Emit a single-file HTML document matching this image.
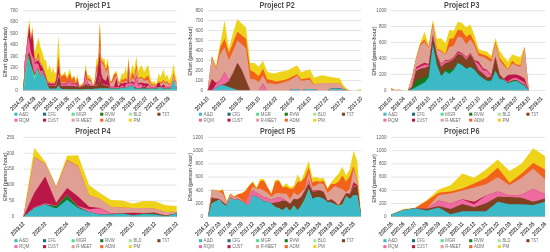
<!DOCTYPE html><html><head><meta charset="utf-8"><style>html,body{margin:0;padding:0;background:#fff;}svg{display:block}text{font-family:"Liberation Sans",sans-serif;}</style></head><body>
<svg width="550" height="252" viewBox="0 0 550 252">
<rect width="550" height="252" fill="#fff"/>
<line x1="23.00" x2="176.40" y1="78.94" y2="78.94" stroke="#d9d9d9" stroke-width="0.7"/>
<line x1="23.00" x2="176.40" y1="67.59" y2="67.59" stroke="#d9d9d9" stroke-width="0.7"/>
<line x1="23.00" x2="176.40" y1="56.23" y2="56.23" stroke="#d9d9d9" stroke-width="0.7"/>
<line x1="23.00" x2="176.40" y1="44.87" y2="44.87" stroke="#d9d9d9" stroke-width="0.7"/>
<line x1="23.00" x2="176.40" y1="33.51" y2="33.51" stroke="#d9d9d9" stroke-width="0.7"/>
<line x1="23.00" x2="176.40" y1="22.16" y2="22.16" stroke="#d9d9d9" stroke-width="0.7"/>
<line x1="23.00" x2="176.40" y1="10.80" y2="10.80" stroke="#d9d9d9" stroke-width="0.7"/>
<path d="M23.00,90.30 L23.00,90.30 L24.00,77.81 L24.80,59.64 L26.20,50.55 L28.10,28.40 L29.30,19.20 L30.80,36.47 L32.40,26.36 L33.80,42.60 L34.70,52.82 L36.60,44.87 L37.90,39.53 L38.60,37.49 L40.20,46.01 L42.80,53.96 L44.50,60.20 L46.00,59.64 L47.70,70.54 L49.30,65.88 L49.90,65.09 L51.50,72.70 L53.10,67.36 L54.70,73.72 L56.30,71.56 L58.40,34.88 L59.60,55.38 L60.00,62.21 L60.70,74.17 L62.30,75.31 L65.00,71.22 L67.10,76.90 L69.80,68.83 L71.90,77.92 L74.10,75.88 L75.70,81.67 L77.30,74.74 L79.40,85.30 L81.60,84.39 L83.70,81.67 L84.00,78.87 L85.60,63.95 L86.00,66.22 L87.50,74.74 L88.00,74.88 L89.60,75.31 L91.20,77.92 L93.00,84.05 L93.40,85.42 L95.00,76.90 L96.60,57.36 L97.00,60.77 L98.30,56.11 L99.00,40.71 L99.90,20.91 L100.00,23.71 L101.00,51.76 L101.20,57.36 L103.10,58.84 L104.00,58.84 L104.70,58.84 L105.80,66.11 L107.90,57.70 L108.00,58.72 L110.00,79.06 L110.10,80.08 L110.50,80.22 L111.00,80.40 L111.70,80.65 L112.00,79.64 L113.80,73.60 L114.00,73.37 L115.00,72.19 L116.50,70.42 L117.00,73.12 L118.00,78.52 L118.10,79.06 L119.00,80.53 L119.70,81.67 L120.00,80.43 L120.50,78.36 L120.80,77.13 L121.90,72.58 L122.00,72.72 L123.50,74.74 L125.00,69.39 L125.60,67.25 L127.20,74.74 L127.60,68.34 L128.30,57.14 L128.80,61.33 L129.00,63.00 L130.40,74.74 L131.00,71.55 L132.00,66.22 L133.00,65.19 L133.10,65.09 L134.20,70.08 L134.50,68.15 L136.40,55.89 L137.00,61.22 L138.10,70.99 L139.50,68.34 L140.00,67.40 L141.40,64.75 L143.00,68.77 L144.20,71.79 L145.00,70.34 L145.50,69.44 L147.50,65.83 L148.10,64.75 L150.00,75.61 L150.90,80.76 L152.00,81.55 L153.10,82.35 L154.80,81.21 L156.00,83.77 L156.40,84.62 L157.50,79.03 L158.00,76.48 L158.70,72.92 L159.50,75.14 L160.00,76.52 L160.30,77.35 L161.00,75.62 L162.00,73.15 L163.70,68.95 L164.00,70.52 L165.30,77.35 L166.00,75.95 L167.00,73.95 L168.00,77.04 L169.20,80.76 L170.00,78.74 L171.00,76.21 L171.40,75.19 L172.00,72.17 L173.70,63.61 L175.00,73.02 L175.30,75.19 L176.40,77.35 L176.40,90.30 Z" fill="#efd31a"/>
<path d="M23.00,90.30 L23.00,90.30 L24.00,78.26 L24.80,60.20 L26.20,51.12 L28.10,32.38 L29.30,23.29 L30.80,38.06 L32.40,29.54 L33.80,46.01 L34.70,59.64 L36.60,58.50 L37.90,53.96 L38.60,52.82 L40.20,61.91 L42.80,66.45 L44.50,70.99 L46.00,76.10 L47.70,81.21 L49.30,81.78 L49.90,81.78 L51.50,82.92 L53.10,82.12 L54.70,82.92 L56.30,77.81 L58.40,56.23 L59.60,67.19 L60.00,70.84 L60.70,77.24 L62.30,75.76 L65.00,74.40 L67.10,78.94 L69.80,73.26 L71.90,80.08 L74.10,76.10 L75.70,82.92 L77.30,77.81 L79.40,85.98 L81.60,85.19 L83.70,82.92 L84.00,80.86 L85.60,69.40 L86.00,71.53 L87.50,77.81 L88.00,78.08 L89.60,78.94 L91.20,80.08 L93.00,84.91 L93.40,85.50 L95.00,80.08 L96.60,64.18 L97.00,67.59 L98.30,61.91 L99.00,45.01 L99.90,23.29 L100.00,26.09 L101.00,54.04 L101.20,59.64 L103.10,61.91 L104.00,63.82 L104.70,65.31 L105.80,69.86 L107.90,64.18 L108.00,64.95 L110.00,80.44 L110.10,81.21 L110.50,81.36 L111.00,81.53 L111.70,81.78 L112.00,80.73 L113.80,74.40 L114.00,74.32 L115.00,73.90 L116.50,73.26 L117.00,75.57 L118.00,80.19 L118.10,80.65 L119.00,81.92 L119.70,82.92 L120.00,82.38 L120.50,81.47 L120.80,80.93 L121.90,78.94 L122.00,79.01 L123.50,80.08 L125.00,78.46 L125.60,77.81 L127.20,80.08 L127.60,72.85 L128.30,60.20 L128.80,64.94 L129.00,66.83 L130.40,80.08 L131.00,77.52 L132.00,73.26 L133.00,73.26 L133.10,73.26 L134.20,76.67 L134.50,74.97 L136.40,64.18 L137.00,68.99 L138.10,77.81 L139.50,77.33 L140.00,77.15 L141.40,76.67 L143.00,77.97 L144.20,78.94 L145.00,78.24 L145.50,77.81 L147.50,76.06 L148.10,75.54 L150.00,80.93 L150.90,83.49 L152.00,84.05 L153.10,84.62 L154.80,84.05 L156.00,85.19 L156.40,85.19 L157.50,82.92 L158.00,82.77 L158.70,81.21 L159.50,81.78 L160.00,82.14 L160.30,82.35 L161.00,81.88 L162.00,81.21 L163.70,80.08 L164.00,80.50 L165.30,82.35 L166.00,81.88 L167.00,81.21 L168.00,82.50 L169.20,84.05 L170.00,83.43 L171.00,82.66 L171.40,82.35 L172.00,79.98 L173.70,73.26 L175.00,78.80 L175.30,80.08 L176.40,81.21 L176.40,90.30 Z" fill="#f2621a"/>
<path d="M23.00,90.30 L23.00,90.30 L24.00,78.49 L24.80,60.77 L26.20,51.69 L28.10,34.65 L29.30,25.56 L30.80,39.19 L32.40,31.81 L33.80,48.28 L34.70,61.34 L36.60,60.20 L37.90,57.36 L38.60,56.23 L40.20,63.04 L42.80,67.59 L44.50,72.13 L46.00,77.24 L47.70,82.35 L49.30,82.58 L49.90,82.58 L51.50,83.49 L53.10,82.80 L54.70,83.49 L56.30,79.51 L58.40,63.04 L59.60,72.52 L60.00,75.68 L60.70,81.21 L62.30,82.58 L65.00,82.12 L67.10,83.26 L69.80,79.51 L71.90,82.92 L74.10,81.78 L75.70,84.62 L77.30,80.99 L79.40,86.44 L81.60,86.24 L83.70,84.62 L84.00,82.47 L85.60,69.40 L86.00,72.37 L87.50,80.08 L88.00,80.21 L89.60,80.65 L91.20,81.78 L93.00,85.53 L93.40,85.50 L95.00,82.35 L96.60,69.86 L97.00,73.26 L98.30,64.84 L99.00,57.65 L99.90,44.87 L100.00,46.18 L101.00,59.29 L101.20,61.91 L103.10,64.18 L104.00,65.78 L104.70,67.02 L105.80,72.13 L107.90,68.72 L108.00,69.34 L110.00,81.73 L110.10,82.35 L110.50,82.49 L111.00,82.67 L111.70,82.92 L112.00,82.51 L113.80,80.08 L114.00,79.74 L115.00,78.06 L116.50,75.54 L117.00,77.67 L118.00,81.92 L118.10,82.35 L119.00,83.31 L119.70,84.05 L120.00,83.67 L120.50,83.02 L120.80,82.63 L121.90,81.21 L122.00,81.29 L123.50,82.35 L125.00,81.13 L125.60,80.65 L127.20,82.35 L127.60,74.71 L128.30,61.34 L128.80,66.34 L129.00,68.34 L130.40,82.35 L131.00,80.65 L132.00,77.81 L133.00,78.84 L133.10,78.94 L134.20,80.08 L134.50,78.53 L136.40,68.72 L137.00,72.33 L138.10,78.94 L139.50,78.46 L140.00,78.29 L141.40,77.81 L143.00,79.43 L144.20,80.65 L145.00,80.53 L145.50,80.46 L147.50,80.17 L148.10,80.08 L150.00,83.55 L150.90,85.19 L152.00,85.19 L153.10,85.19 L154.80,85.19 L156.00,85.19 L156.40,85.19 L157.50,82.92 L158.00,82.92 L158.70,82.35 L159.50,82.92 L160.00,83.73 L160.30,84.05 L161.00,83.47 L162.00,82.63 L163.70,81.21 L164.00,81.64 L165.30,83.49 L166.00,83.25 L167.00,82.92 L168.00,83.95 L169.20,85.19 L170.00,84.57 L171.00,83.80 L171.40,83.49 L172.00,81.41 L173.70,75.54 L175.00,80.61 L175.30,81.78 L176.40,82.35 L176.40,90.30 Z" fill="#df9f92"/>
<path d="M23.00,90.30 L23.00,90.30 L24.00,78.72 L24.80,61.34 L26.20,52.25 L28.10,35.79 L29.30,26.70 L30.80,40.33 L32.40,33.51 L33.80,50.55 L34.70,63.04 L36.60,61.34 L37.90,60.54 L38.60,60.43 L40.20,64.18 L42.80,68.15 L44.50,73.26 L46.00,77.81 L47.70,83.26 L49.30,83.26 L49.90,83.26 L51.50,84.05 L53.10,83.49 L54.70,84.05 L56.30,80.08 L58.40,64.18 L59.60,73.96 L60.00,77.21 L60.70,82.92 L62.30,83.71 L65.00,83.26 L67.10,84.05 L69.80,80.08 L71.90,83.71 L74.10,82.58 L75.70,85.19 L77.30,81.78 L79.40,86.67 L81.60,86.24 L83.70,85.62 L84.00,84.13 L85.60,69.40 L86.00,72.37 L87.50,82.97 L88.00,83.76 L89.60,84.62 L91.20,85.53 L93.00,85.53 L93.40,85.50 L95.00,84.62 L96.60,77.35 L97.00,75.54 L98.30,64.84 L99.00,59.09 L99.90,51.69 L100.00,53.35 L101.00,69.94 L101.20,73.26 L103.10,78.94 L104.00,79.58 L104.70,80.08 L105.80,81.21 L107.90,74.74 L108.00,75.25 L110.00,85.51 L110.10,86.02 L110.50,86.31 L111.00,86.67 L111.70,86.67 L112.00,86.67 L113.80,86.67 L114.00,86.67 L115.00,83.17 L116.50,77.92 L117.00,80.84 L118.00,86.67 L118.10,86.67 L119.00,85.53 L119.70,84.65 L120.00,84.27 L120.50,83.64 L120.80,83.26 L121.90,83.57 L122.00,83.60 L123.50,83.13 L125.00,82.65 L125.60,82.46 L127.20,83.09 L127.60,83.02 L128.30,61.91 L128.80,82.80 L129.00,82.77 L130.40,82.52 L131.00,82.07 L132.00,81.33 L133.00,82.10 L133.10,82.18 L134.20,83.03 L134.50,82.01 L136.40,75.54 L137.00,78.26 L138.10,83.26 L139.50,82.92 L140.00,82.80 L141.40,82.46 L143.00,83.11 L144.20,83.60 L145.00,83.60 L145.50,83.60 L147.50,83.60 L148.10,83.60 L150.00,86.67 L150.90,86.67 L152.00,86.67 L153.10,86.67 L154.80,86.67 L156.00,86.67 L156.40,85.67 L157.50,82.92 L158.00,82.92 L158.70,82.92 L159.50,82.92 L160.00,84.17 L160.30,84.92 L161.00,86.67 L162.00,85.70 L163.70,84.05 L164.00,84.54 L165.30,86.67 L166.00,86.67 L167.00,86.67 L168.00,86.67 L169.20,86.67 L170.00,86.67 L171.00,86.67 L171.40,86.67 L172.00,85.51 L173.70,80.08 L175.00,85.76 L175.30,86.00 L176.40,86.44 L176.40,90.30 Z" fill="#bb1746"/>
<path d="M23.00,90.30 L23.00,90.30 L24.00,78.94 L24.80,61.91 L26.20,52.82 L28.10,36.92 L29.30,40.33 L30.80,51.69 L32.40,56.23 L33.80,58.50 L34.70,64.18 L36.60,63.04 L37.90,64.18 L38.60,64.75 L40.20,70.99 L42.80,70.42 L44.50,75.54 L46.00,78.94 L47.70,84.96 L49.30,85.19 L49.90,85.19 L51.50,85.53 L53.10,85.19 L54.70,85.53 L56.30,83.49 L58.40,73.26 L59.60,76.67 L60.00,79.36 L60.70,84.05 L62.30,84.62 L65.00,84.05 L67.10,84.85 L69.80,80.65 L71.90,84.62 L74.10,83.49 L75.70,85.76 L77.30,84.05 L79.40,86.89 L81.60,86.24 L83.70,85.62 L84.00,85.53 L85.60,73.26 L86.00,75.31 L87.50,82.97 L88.00,85.53 L89.60,85.53 L91.20,85.53 L93.00,85.53 L93.40,85.50 L95.00,85.36 L96.60,85.22 L97.00,85.19 L98.30,80.86 L99.00,78.53 L99.90,75.54 L100.00,76.05 L101.00,81.21 L101.20,83.49 L103.10,84.05 L104.00,84.05 L104.70,84.62 L105.80,84.81 L107.90,85.17 L108.00,85.19 L110.00,86.63 L110.10,86.70 L110.50,86.99 L111.00,87.35 L111.70,87.35 L112.00,87.35 L113.80,87.35 L114.00,87.35 L115.00,87.35 L116.50,87.35 L117.00,87.35 L118.00,87.35 L118.10,87.35 L119.00,87.35 L119.70,87.35 L120.00,87.35 L120.50,86.81 L120.80,86.48 L121.90,85.30 L122.00,85.19 L123.50,86.27 L125.00,87.35 L125.60,84.05 L127.20,83.77 L127.60,83.70 L128.30,83.57 L128.80,83.49 L129.00,83.45 L130.40,83.20 L131.00,83.10 L132.00,82.92 L133.00,83.69 L133.10,83.77 L134.20,84.62 L134.50,83.54 L136.40,76.67 L137.00,79.56 L138.10,84.85 L139.50,84.51 L140.00,84.39 L141.40,84.05 L143.00,87.01 L144.20,85.19 L145.00,86.52 L145.50,87.26 L147.50,85.69 L148.10,85.19 L150.00,87.35 L150.90,87.35 L152.00,87.35 L153.10,87.35 L154.80,87.35 L156.00,87.35 L156.40,87.35 L157.50,87.35 L158.00,87.35 L158.70,87.35 L159.50,87.35 L160.00,86.89 L160.30,87.17 L161.00,87.35 L162.00,87.35 L163.70,87.35 L164.00,87.35 L165.30,87.35 L166.00,87.35 L167.00,87.35 L168.00,87.35 L169.20,87.35 L170.00,87.35 L171.00,87.35 L171.40,87.35 L172.00,85.51 L173.70,80.08 L175.00,85.76 L175.30,86.00 L176.40,86.44 L176.40,90.30 Z" fill="#f06aa2"/>
<path d="M23.00,90.30 L23.00,90.30 L24.00,82.92 L24.80,74.97 L26.20,65.88 L28.10,53.96 L29.30,52.82 L30.80,57.36 L32.40,65.31 L33.80,70.99 L34.70,73.83 L36.60,70.42 L37.90,68.72 L38.60,69.86 L40.20,76.67 L42.80,72.13 L44.50,76.67 L46.00,79.51 L47.70,85.53 L49.30,85.98 L49.90,85.98 L51.50,85.98 L53.10,85.98 L54.70,85.98 L56.30,85.76 L58.40,77.81 L59.60,77.81 L60.00,80.70 L60.70,85.76 L62.30,85.98 L65.00,85.76 L67.10,86.33 L69.80,85.76 L71.90,86.33 L74.10,85.76 L75.70,86.89 L77.30,85.76 L79.40,87.46 L81.60,86.75 L83.70,86.08 L84.00,85.98 L85.60,84.44 L86.00,84.05 L87.50,85.50 L88.00,85.98 L89.60,85.98 L91.20,85.98 L93.00,85.98 L93.40,85.98 L95.00,85.98 L96.60,85.98 L97.00,85.98 L98.30,81.81 L99.00,79.56 L99.90,76.67 L100.00,77.34 L101.00,84.05 L101.20,84.05 L103.10,84.85 L104.00,84.85 L104.70,85.19 L105.80,85.45 L107.90,85.96 L108.00,85.98 L110.00,87.80 L110.10,87.89 L110.50,88.26 L111.00,88.26 L111.70,88.26 L112.00,88.26 L113.80,88.26 L114.00,88.26 L115.00,88.26 L116.50,88.26 L117.00,88.26 L118.00,87.98 L118.10,87.95 L119.00,87.70 L119.70,87.51 L120.00,87.42 L120.50,87.43 L120.80,87.43 L121.90,87.43 L122.00,87.43 L123.50,87.44 L125.00,87.45 L125.60,87.29 L127.20,86.86 L127.60,86.75 L128.30,86.56 L128.80,86.43 L129.00,86.38 L130.40,86.00 L131.00,85.84 L132.00,85.57 L133.00,85.76 L133.10,85.95 L134.20,86.75 L134.50,86.91 L136.40,87.93 L137.00,88.26 L138.10,88.26 L139.50,88.26 L140.00,88.26 L141.40,87.67 L143.00,87.01 L144.20,87.01 L145.00,87.01 L145.50,87.26 L147.50,88.26 L148.10,88.26 L150.00,88.26 L150.90,88.26 L152.00,88.26 L153.10,88.26 L154.80,88.26 L156.00,88.26 L156.40,88.26 L157.50,88.26 L158.00,88.26 L158.70,88.07 L159.50,87.35 L160.00,86.89 L160.30,87.17 L161.00,87.80 L162.00,88.26 L163.70,88.26 L164.00,88.26 L165.30,88.26 L166.00,88.26 L167.00,88.26 L168.00,88.26 L169.20,88.26 L170.00,88.26 L171.00,87.97 L171.40,87.43 L172.00,85.51 L173.70,80.08 L175.00,85.76 L175.30,86.00 L176.40,86.44 L176.40,90.30 Z" fill="#7e401e"/>
<path d="M23.00,90.30 L23.00,90.30 L24.00,83.49 L24.80,75.54 L26.20,66.45 L28.10,55.09 L29.30,59.64 L30.80,65.31 L32.40,69.86 L33.80,73.26 L34.70,75.54 L36.60,70.99 L37.90,69.29 L38.60,70.99 L40.20,77.24 L42.80,72.70 L44.50,77.24 L46.00,80.08 L47.70,85.76 L49.30,88.71 L49.90,88.71 L51.50,88.71 L53.10,88.71 L54.70,88.71 L56.30,88.71 L58.40,85.19 L59.60,87.32 L60.00,88.03 L60.70,88.60 L62.30,89.16 L65.00,89.16 L67.10,89.39 L69.80,89.39 L71.90,89.39 L74.10,89.39 L75.70,89.39 L77.30,89.39 L79.40,89.73 L81.60,89.60 L83.70,89.48 L84.00,89.46 L85.60,89.37 L86.00,89.35 L87.50,89.26 L88.00,89.23 L89.60,89.14 L91.20,89.05 L93.00,88.94 L93.40,88.92 L95.00,88.83 L96.60,88.73 L97.00,88.71 L98.30,88.64 L99.00,88.60 L99.90,88.60 L100.00,88.60 L101.00,88.60 L101.20,88.60 L103.10,88.60 L104.00,88.60 L104.70,88.60 L105.80,88.60 L107.90,88.60 L108.00,88.60 L110.00,88.71 L110.10,88.71 L110.50,88.71 L111.00,88.71 L111.70,88.71 L112.00,88.71 L113.80,88.71 L114.00,88.71 L115.00,88.71 L116.50,88.71 L117.00,88.71 L118.00,88.71 L118.10,88.71 L119.00,88.71 L119.70,88.13 L120.00,87.88 L120.50,87.46 L120.80,87.71 L121.90,88.63 L122.00,88.71 L123.50,88.31 L125.00,87.90 L125.60,87.74 L127.20,87.31 L127.60,87.21 L128.30,87.02 L128.80,86.88 L129.00,86.83 L130.40,86.46 L131.00,86.29 L132.00,86.03 L133.00,85.76 L133.10,85.95 L134.20,88.12 L134.50,88.71 L136.40,88.71 L137.00,88.71 L138.10,88.71 L139.50,88.71 L140.00,88.71 L141.40,88.71 L143.00,88.71 L144.20,88.71 L145.00,88.71 L145.50,88.71 L147.50,88.71 L148.10,88.71 L150.00,88.71 L150.90,88.71 L152.00,88.71 L153.10,88.71 L154.80,88.71 L156.00,88.71 L156.40,88.71 L157.50,88.71 L158.00,88.71 L158.70,88.07 L159.50,87.35 L160.00,86.89 L160.30,87.17 L161.00,87.80 L162.00,88.71 L163.70,88.71 L164.00,88.71 L165.30,88.71 L166.00,88.71 L167.00,88.71 L168.00,88.71 L169.20,88.71 L170.00,88.71 L171.00,88.71 L171.40,87.43 L172.00,85.51 L173.70,80.08 L175.00,85.76 L175.30,86.00 L176.40,86.89 L176.40,90.30 Z" fill="#4fe08e"/>
<path d="M23.00,90.30 L23.00,90.30 L24.00,88.03 L24.80,83.49 L26.20,73.26 L28.10,56.23 L29.30,60.77 L30.80,66.45 L32.40,70.99 L33.80,76.67 L34.70,80.08 L36.60,73.26 L37.90,70.20 L38.60,72.13 L40.20,78.26 L42.80,73.38 L44.50,77.81 L46.00,81.55 L47.70,86.89 L49.30,88.71 L49.90,88.71 L51.50,88.71 L53.10,88.71 L54.70,88.71 L56.30,88.71 L58.40,85.76 L59.60,87.46 L60.00,88.03 L60.70,88.60 L62.30,89.16 L65.00,89.16 L67.10,89.39 L69.80,89.39 L71.90,89.39 L74.10,89.39 L75.70,89.39 L77.30,89.39 L79.40,89.73 L81.60,89.60 L83.70,89.48 L84.00,89.46 L85.60,89.37 L86.00,89.35 L87.50,89.26 L88.00,89.23 L89.60,89.14 L91.20,89.05 L93.00,88.94 L93.40,88.92 L95.00,88.83 L96.60,88.73 L97.00,88.71 L98.30,88.64 L99.00,88.60 L99.90,88.60 L100.00,88.60 L101.00,88.60 L101.20,88.60 L103.10,88.60 L104.00,88.60 L104.70,88.60 L105.80,88.60 L107.90,88.60 L108.00,88.60 L110.00,88.71 L110.10,88.71 L110.50,88.71 L111.00,88.71 L111.70,88.71 L112.00,88.71 L113.80,88.71 L114.00,88.71 L115.00,88.71 L116.50,88.71 L117.00,88.71 L118.00,88.71 L118.10,88.71 L119.00,88.71 L119.70,88.13 L120.00,87.88 L120.50,87.46 L120.80,87.71 L121.90,88.63 L122.00,88.71 L123.50,88.31 L125.00,87.90 L125.60,87.74 L127.20,87.31 L127.60,87.21 L128.30,87.02 L128.80,86.88 L129.00,86.83 L130.40,86.46 L131.00,86.29 L132.00,86.03 L133.00,85.76 L133.10,85.95 L134.20,88.12 L134.50,88.71 L136.40,88.71 L137.00,88.71 L138.10,88.71 L139.50,88.71 L140.00,88.71 L141.40,88.71 L143.00,88.71 L144.20,88.71 L145.00,88.71 L145.50,88.71 L147.50,88.71 L148.10,88.71 L150.00,88.71 L150.90,88.71 L152.00,88.71 L153.10,88.71 L154.80,88.71 L156.00,88.71 L156.40,88.71 L157.50,88.71 L158.00,88.71 L158.70,88.07 L159.50,87.35 L160.00,86.89 L160.30,87.17 L161.00,87.80 L162.00,88.71 L163.70,88.71 L164.00,88.71 L165.30,88.71 L166.00,88.71 L167.00,88.71 L168.00,88.71 L169.20,88.71 L170.00,88.71 L171.00,88.71 L171.40,87.43 L172.00,85.51 L173.70,80.08 L175.00,85.76 L175.30,86.00 L176.40,86.89 L176.40,90.30 Z" fill="#3cb9c6"/>
<line x1="23.00" x2="176.40" y1="90.30" y2="90.30" stroke="#d9d9d9" stroke-width="0.7"/>
<text x="17.90" y="91.60" font-size="5.40" fill="#5a5a5a" text-anchor="end" textLength="2.53" lengthAdjust="spacingAndGlyphs">0</text>
<text x="17.90" y="80.24" font-size="5.40" fill="#5a5a5a" text-anchor="end" textLength="7.60" lengthAdjust="spacingAndGlyphs">100</text>
<text x="17.90" y="68.89" font-size="5.40" fill="#5a5a5a" text-anchor="end" textLength="7.60" lengthAdjust="spacingAndGlyphs">200</text>
<text x="17.90" y="57.53" font-size="5.40" fill="#5a5a5a" text-anchor="end" textLength="7.60" lengthAdjust="spacingAndGlyphs">300</text>
<text x="17.90" y="46.17" font-size="5.40" fill="#5a5a5a" text-anchor="end" textLength="7.60" lengthAdjust="spacingAndGlyphs">400</text>
<text x="17.90" y="34.81" font-size="5.40" fill="#5a5a5a" text-anchor="end" textLength="7.60" lengthAdjust="spacingAndGlyphs">500</text>
<text x="17.90" y="23.46" font-size="5.40" fill="#5a5a5a" text-anchor="end" textLength="7.60" lengthAdjust="spacingAndGlyphs">600</text>
<text x="17.90" y="12.10" font-size="5.40" fill="#5a5a5a" text-anchor="end" textLength="7.60" lengthAdjust="spacingAndGlyphs">700</text>
<text x="6.80" y="52.00" font-size="5.60" fill="#555555" text-anchor="middle" textLength="50.59" lengthAdjust="spacingAndGlyphs" transform="rotate(-90 6.80 52.00)" stroke="#555555" stroke-width="0.1">Effort (person-hour)</text>
<text x="92.80" y="7.60" font-size="8.50" font-weight="bold" fill="#505050" text-anchor="middle" textLength="35.30" lengthAdjust="spacingAndGlyphs">Project P1</text>
<text x="24.60" y="98.90" font-size="5.50" fill="#424242" text-anchor="end" textLength="16.96" lengthAdjust="spacingAndGlyphs" transform="rotate(-45 24.60 98.90)" stroke="#424242" stroke-width="0.2">2014.02</text>
<text x="35.79" y="98.90" font-size="5.50" fill="#424242" text-anchor="end" textLength="16.96" lengthAdjust="spacingAndGlyphs" transform="rotate(-45 35.79 98.90)" stroke="#424242" stroke-width="0.2">2014.09</text>
<text x="46.97" y="98.90" font-size="5.50" fill="#424242" text-anchor="end" textLength="16.96" lengthAdjust="spacingAndGlyphs" transform="rotate(-45 46.97 98.90)" stroke="#424242" stroke-width="0.2">2015.04</text>
<text x="58.16" y="98.90" font-size="5.50" fill="#424242" text-anchor="end" textLength="16.96" lengthAdjust="spacingAndGlyphs" transform="rotate(-45 58.16 98.90)" stroke="#424242" stroke-width="0.2">2015.11</text>
<text x="69.34" y="98.90" font-size="5.50" fill="#424242" text-anchor="end" textLength="16.96" lengthAdjust="spacingAndGlyphs" transform="rotate(-45 69.34 98.90)" stroke="#424242" stroke-width="0.2">2016.06</text>
<text x="80.53" y="98.90" font-size="5.50" fill="#424242" text-anchor="end" textLength="16.96" lengthAdjust="spacingAndGlyphs" transform="rotate(-45 80.53 98.90)" stroke="#424242" stroke-width="0.2">2017.01</text>
<text x="91.71" y="98.90" font-size="5.50" fill="#424242" text-anchor="end" textLength="16.96" lengthAdjust="spacingAndGlyphs" transform="rotate(-45 91.71 98.90)" stroke="#424242" stroke-width="0.2">2017.08</text>
<text x="102.90" y="98.90" font-size="5.50" fill="#424242" text-anchor="end" textLength="16.96" lengthAdjust="spacingAndGlyphs" transform="rotate(-45 102.90 98.90)" stroke="#424242" stroke-width="0.2">2018.03</text>
<text x="114.08" y="98.90" font-size="5.50" fill="#424242" text-anchor="end" textLength="16.96" lengthAdjust="spacingAndGlyphs" transform="rotate(-45 114.08 98.90)" stroke="#424242" stroke-width="0.2">2018.10</text>
<text x="125.27" y="98.90" font-size="5.50" fill="#424242" text-anchor="end" textLength="16.96" lengthAdjust="spacingAndGlyphs" transform="rotate(-45 125.27 98.90)" stroke="#424242" stroke-width="0.2">2019.05</text>
<text x="136.45" y="98.90" font-size="5.50" fill="#424242" text-anchor="end" textLength="16.96" lengthAdjust="spacingAndGlyphs" transform="rotate(-45 136.45 98.90)" stroke="#424242" stroke-width="0.2">2019.12</text>
<text x="147.64" y="98.90" font-size="5.50" fill="#424242" text-anchor="end" textLength="16.96" lengthAdjust="spacingAndGlyphs" transform="rotate(-45 147.64 98.90)" stroke="#424242" stroke-width="0.2">2020.07</text>
<text x="158.82" y="98.90" font-size="5.50" fill="#424242" text-anchor="end" textLength="16.96" lengthAdjust="spacingAndGlyphs" transform="rotate(-45 158.82 98.90)" stroke="#424242" stroke-width="0.2">2021.02</text>
<text x="170.01" y="98.90" font-size="5.50" fill="#424242" text-anchor="end" textLength="16.96" lengthAdjust="spacingAndGlyphs" transform="rotate(-45 170.01 98.90)" stroke="#424242" stroke-width="0.2">2021.09</text>
<rect x="14.40" y="112.70" width="3.1" height="3.0" fill="#3cb9c6"/>
<text x="19.10" y="115.70" font-size="4.90" fill="#6e6e6e" text-anchor="start" textLength="9.38" lengthAdjust="spacingAndGlyphs">A&amp;D</text>
<rect x="43.00" y="112.70" width="3.1" height="3.0" fill="#1d6b74"/>
<text x="47.70" y="115.70" font-size="4.90" fill="#6e6e6e" text-anchor="start" textLength="8.07" lengthAdjust="spacingAndGlyphs">CFG</text>
<rect x="71.60" y="112.70" width="3.1" height="3.0" fill="#4fe08e"/>
<text x="76.30" y="115.70" font-size="4.90" fill="#6e6e6e" text-anchor="start" textLength="10.14" lengthAdjust="spacingAndGlyphs">MGR</text>
<rect x="100.20" y="112.70" width="3.1" height="3.0" fill="#127a1c"/>
<text x="104.90" y="115.70" font-size="4.90" fill="#6e6e6e" text-anchor="start" textLength="9.93" lengthAdjust="spacingAndGlyphs">RVW</text>
<rect x="128.80" y="112.70" width="3.1" height="3.0" fill="#a8e29c"/>
<text x="133.50" y="115.70" font-size="4.90" fill="#6e6e6e" text-anchor="start" textLength="7.90" lengthAdjust="spacingAndGlyphs">BLD</text>
<rect x="157.40" y="112.70" width="3.1" height="3.0" fill="#7e401e"/>
<text x="162.10" y="115.70" font-size="4.90" fill="#6e6e6e" text-anchor="start" textLength="7.11" lengthAdjust="spacingAndGlyphs">TST</text>
<rect x="14.40" y="118.65" width="3.1" height="3.0" fill="#f06aa2"/>
<text x="19.10" y="121.65" font-size="4.90" fill="#6e6e6e" text-anchor="start" textLength="10.31" lengthAdjust="spacingAndGlyphs">RQM</text>
<rect x="43.00" y="118.65" width="3.1" height="3.0" fill="#bb1746"/>
<text x="47.70" y="121.65" font-size="4.90" fill="#6e6e6e" text-anchor="start" textLength="10.57" lengthAdjust="spacingAndGlyphs">CUST</text>
<rect x="71.60" y="118.65" width="3.1" height="3.0" fill="#df9f92"/>
<text x="76.30" y="121.65" font-size="4.90" fill="#6e6e6e" text-anchor="start" textLength="15.84" lengthAdjust="spacingAndGlyphs">R-MEET</text>
<rect x="100.20" y="118.65" width="3.1" height="3.0" fill="#f2621a"/>
<text x="104.90" y="121.65" font-size="4.90" fill="#6e6e6e" text-anchor="start" textLength="10.24" lengthAdjust="spacingAndGlyphs">ADM</text>
<rect x="128.80" y="118.65" width="3.1" height="3.0" fill="#efd31a"/>
<text x="133.50" y="121.65" font-size="4.90" fill="#6e6e6e" text-anchor="start" textLength="6.86" lengthAdjust="spacingAndGlyphs">PM</text>
<line x1="207.60" x2="361.00" y1="80.43" y2="80.43" stroke="#d9d9d9" stroke-width="0.7"/>
<line x1="207.60" x2="361.00" y1="70.45" y2="70.45" stroke="#d9d9d9" stroke-width="0.7"/>
<line x1="207.60" x2="361.00" y1="60.48" y2="60.48" stroke="#d9d9d9" stroke-width="0.7"/>
<line x1="207.60" x2="361.00" y1="50.50" y2="50.50" stroke="#d9d9d9" stroke-width="0.7"/>
<line x1="207.60" x2="361.00" y1="40.52" y2="40.52" stroke="#d9d9d9" stroke-width="0.7"/>
<line x1="207.60" x2="361.00" y1="30.55" y2="30.55" stroke="#d9d9d9" stroke-width="0.7"/>
<line x1="207.60" x2="361.00" y1="20.58" y2="20.58" stroke="#d9d9d9" stroke-width="0.7"/>
<line x1="207.60" x2="361.00" y1="10.60" y2="10.60" stroke="#d9d9d9" stroke-width="0.7"/>
<path d="M207.60,90.40 L207.60,90.40 L211.86,55.89 L216.12,65.46 L220.38,43.02 L224.64,20.58 L228.91,49.10 L233.17,32.54 L237.43,18.98 L241.69,23.57 L245.95,27.56 L250.21,63.07 L254.47,63.07 L258.73,66.66 L262.99,60.87 L267.26,71.85 L271.52,73.34 L275.78,73.34 L280.04,71.85 L284.30,71.15 L288.56,69.65 L292.82,67.46 L297.08,65.26 L301.34,72.35 L305.61,70.85 L309.87,69.35 L314.13,77.83 L318.39,76.34 L322.65,75.14 L326.91,76.34 L331.17,77.03 L335.43,77.83 L339.69,78.23 L343.96,85.91 L348.22,89.80 L352.48,90.20 L356.74,89.90 L361.00,89.10 L361.00,90.40 Z" fill="#efd31a"/>
<path d="M207.60,90.40 L207.60,90.40 L211.86,56.29 L216.12,67.96 L220.38,46.51 L224.64,38.73 L228.91,52.99 L233.17,42.52 L237.43,31.65 L241.69,35.24 L245.95,38.73 L250.21,69.95 L254.47,72.54 L258.73,76.34 L262.99,68.85 L267.26,79.23 L271.52,79.93 L275.78,81.42 L280.04,80.72 L284.30,79.93 L288.56,78.53 L292.82,76.34 L297.08,74.14 L301.34,79.23 L305.61,78.53 L309.87,77.83 L314.13,84.42 L318.39,83.62 L322.65,82.92 L326.91,82.92 L331.17,83.22 L335.43,83.62 L339.69,83.62 L343.96,88.41 L348.22,90.10 L352.48,90.40 L356.74,90.40 L361.00,90.40 L361.00,90.40 Z" fill="#f2621a"/>
<path d="M207.60,90.40 L207.60,90.40 L211.86,56.88 L216.12,68.95 L220.38,53.49 L224.64,47.51 L228.91,59.98 L233.17,50.50 L237.43,40.43 L241.69,44.32 L245.95,48.31 L250.21,79.03 L254.47,79.23 L258.73,82.12 L262.99,75.54 L267.26,83.62 L271.52,83.62 L275.78,84.32 L280.04,83.62 L284.30,82.12 L288.56,80.72 L292.82,78.53 L297.08,75.54 L301.34,80.72 L305.61,80.23 L309.87,79.73 L314.13,85.11 L318.39,83.62 L322.65,82.92 L326.91,82.92 L331.17,83.22 L335.43,83.62 L339.69,83.62 L343.96,88.60 L348.22,90.20 L352.48,90.40 L356.74,90.40 L361.00,90.40 L361.00,90.40 Z" fill="#df9f92"/>
<path d="M207.60,90.40 L207.60,90.40 L211.86,79.03 L216.12,83.02 L220.38,80.03 L224.64,71.95 L228.91,80.03 L233.17,72.45 L237.43,62.97 L241.69,69.45 L245.95,79.93 L250.21,90.40 L254.47,90.40 L258.73,90.40 L262.99,83.62 L267.26,90.40 L271.52,90.40 L275.78,90.40 L280.04,90.40 L284.30,90.40 L288.56,90.40 L292.82,88.90 L297.08,88.90 L301.34,90.40 L305.61,89.10 L309.87,89.10 L314.13,89.10 L318.39,90.40 L322.65,90.40 L326.91,90.40 L331.17,88.50 L335.43,88.21 L339.69,88.21 L343.96,89.40 L348.22,90.40 L352.48,90.40 L356.74,90.40 L361.00,90.40 L361.00,90.40 Z" fill="#bb1746"/>
<path d="M207.60,90.40 L207.60,90.40 L211.86,90.40 L216.12,84.02 L220.38,80.03 L224.64,71.95 L228.91,80.03 L233.17,72.45 L237.43,62.97 L241.69,69.45 L245.95,79.93 L250.21,90.40 L254.47,90.40 L258.73,90.40 L262.99,83.62 L267.26,90.40 L271.52,90.40 L275.78,90.40 L280.04,90.40 L284.30,90.40 L288.56,90.40 L292.82,88.90 L297.08,88.90 L301.34,90.40 L305.61,89.10 L309.87,89.10 L314.13,89.10 L318.39,90.40 L322.65,90.40 L326.91,90.40 L331.17,88.50 L335.43,88.21 L339.69,88.21 L343.96,89.40 L348.22,90.40 L352.48,90.40 L356.74,90.40 L361.00,90.40 L361.00,90.40 Z" fill="#f06aa2"/>
<path d="M207.60,90.40 L207.60,90.40 L211.86,90.40 L216.12,87.51 L220.38,85.01 L224.64,84.02 L228.91,81.02 L233.17,72.94 L237.43,62.97 L241.69,69.95 L245.95,80.43 L250.21,90.40 L254.47,90.40 L258.73,90.40 L262.99,90.40 L267.26,90.40 L271.52,90.40 L275.78,90.40 L280.04,90.40 L284.30,90.40 L288.56,90.40 L292.82,88.90 L297.08,88.90 L301.34,90.40 L305.61,89.10 L309.87,89.10 L314.13,89.10 L318.39,90.40 L322.65,90.40 L326.91,90.40 L331.17,88.50 L335.43,88.21 L339.69,88.21 L343.96,89.40 L348.22,90.40 L352.48,90.40 L356.74,90.40 L361.00,90.40 L361.00,90.40 Z" fill="#7e401e"/>
<path d="M207.60,90.40 L207.60,90.40 L211.86,90.40 L216.12,87.51 L220.38,85.01 L224.64,85.51 L228.91,87.01 L233.17,88.50 L237.43,89.90 L241.69,90.40 L245.95,90.40 L250.21,90.40 L254.47,90.40 L258.73,90.40 L262.99,90.40 L267.26,90.40 L271.52,90.40 L275.78,90.40 L280.04,90.40 L284.30,90.40 L288.56,90.40 L292.82,88.90 L297.08,88.90 L301.34,90.40 L305.61,89.10 L309.87,89.10 L314.13,89.10 L318.39,90.40 L322.65,90.40 L326.91,90.40 L331.17,88.50 L335.43,88.50 L339.69,88.50 L343.96,89.40 L348.22,90.40 L352.48,90.40 L356.74,90.40 L361.00,90.40 L361.00,90.40 Z" fill="#3cb9c6"/>
<line x1="207.60" x2="361.00" y1="90.40" y2="90.40" stroke="#d9d9d9" stroke-width="0.7"/>
<text x="203.00" y="91.70" font-size="5.40" fill="#5a5a5a" text-anchor="end" textLength="2.53" lengthAdjust="spacingAndGlyphs">0</text>
<text x="203.00" y="81.73" font-size="5.40" fill="#5a5a5a" text-anchor="end" textLength="7.60" lengthAdjust="spacingAndGlyphs">100</text>
<text x="203.00" y="71.75" font-size="5.40" fill="#5a5a5a" text-anchor="end" textLength="7.60" lengthAdjust="spacingAndGlyphs">200</text>
<text x="203.00" y="61.77" font-size="5.40" fill="#5a5a5a" text-anchor="end" textLength="7.60" lengthAdjust="spacingAndGlyphs">300</text>
<text x="203.00" y="51.80" font-size="5.40" fill="#5a5a5a" text-anchor="end" textLength="7.60" lengthAdjust="spacingAndGlyphs">400</text>
<text x="203.00" y="41.82" font-size="5.40" fill="#5a5a5a" text-anchor="end" textLength="7.60" lengthAdjust="spacingAndGlyphs">500</text>
<text x="203.00" y="31.85" font-size="5.40" fill="#5a5a5a" text-anchor="end" textLength="7.60" lengthAdjust="spacingAndGlyphs">600</text>
<text x="203.00" y="21.88" font-size="5.40" fill="#5a5a5a" text-anchor="end" textLength="7.60" lengthAdjust="spacingAndGlyphs">700</text>
<text x="203.00" y="11.90" font-size="5.40" fill="#5a5a5a" text-anchor="end" textLength="7.60" lengthAdjust="spacingAndGlyphs">800</text>
<text x="191.70" y="51.00" font-size="5.60" fill="#555555" text-anchor="middle" textLength="49.38" lengthAdjust="spacingAndGlyphs" transform="rotate(-90 191.70 51.00)" stroke="#555555" stroke-width="0.1">Effort (person-hour)</text>
<text x="277.10" y="7.60" font-size="8.50" font-weight="bold" fill="#505050" text-anchor="middle" textLength="35.30" lengthAdjust="spacingAndGlyphs">Project P2</text>
<text x="209.20" y="99.00" font-size="5.50" fill="#424242" text-anchor="end" textLength="16.96" lengthAdjust="spacingAndGlyphs" transform="rotate(-45 209.20 99.00)" stroke="#424242" stroke-width="0.2">2014.10</text>
<text x="226.24" y="99.00" font-size="5.50" fill="#424242" text-anchor="end" textLength="16.96" lengthAdjust="spacingAndGlyphs" transform="rotate(-45 226.24 99.00)" stroke="#424242" stroke-width="0.2">2015.02</text>
<text x="243.29" y="99.00" font-size="5.50" fill="#424242" text-anchor="end" textLength="16.96" lengthAdjust="spacingAndGlyphs" transform="rotate(-45 243.29 99.00)" stroke="#424242" stroke-width="0.2">2015.06</text>
<text x="260.33" y="99.00" font-size="5.50" fill="#424242" text-anchor="end" textLength="16.96" lengthAdjust="spacingAndGlyphs" transform="rotate(-45 260.33 99.00)" stroke="#424242" stroke-width="0.2">2015.10</text>
<text x="277.38" y="99.00" font-size="5.50" fill="#424242" text-anchor="end" textLength="16.96" lengthAdjust="spacingAndGlyphs" transform="rotate(-45 277.38 99.00)" stroke="#424242" stroke-width="0.2">2016.02</text>
<text x="294.42" y="99.00" font-size="5.50" fill="#424242" text-anchor="end" textLength="16.96" lengthAdjust="spacingAndGlyphs" transform="rotate(-45 294.42 99.00)" stroke="#424242" stroke-width="0.2">2016.06</text>
<text x="311.47" y="99.00" font-size="5.50" fill="#424242" text-anchor="end" textLength="16.96" lengthAdjust="spacingAndGlyphs" transform="rotate(-45 311.47 99.00)" stroke="#424242" stroke-width="0.2">2016.10</text>
<text x="328.51" y="99.00" font-size="5.50" fill="#424242" text-anchor="end" textLength="16.96" lengthAdjust="spacingAndGlyphs" transform="rotate(-45 328.51 99.00)" stroke="#424242" stroke-width="0.2">2017.02</text>
<text x="345.56" y="99.00" font-size="5.50" fill="#424242" text-anchor="end" textLength="16.96" lengthAdjust="spacingAndGlyphs" transform="rotate(-45 345.56 99.00)" stroke="#424242" stroke-width="0.2">2017.06</text>
<text x="362.60" y="99.00" font-size="5.50" fill="#424242" text-anchor="end" textLength="16.96" lengthAdjust="spacingAndGlyphs" transform="rotate(-45 362.60 99.00)" stroke="#424242" stroke-width="0.2">2017.10</text>
<rect x="198.90" y="112.70" width="3.1" height="3.0" fill="#3cb9c6"/>
<text x="203.60" y="115.70" font-size="4.90" fill="#6e6e6e" text-anchor="start" textLength="9.38" lengthAdjust="spacingAndGlyphs">A&amp;D</text>
<rect x="227.50" y="112.70" width="3.1" height="3.0" fill="#1d6b74"/>
<text x="232.20" y="115.70" font-size="4.90" fill="#6e6e6e" text-anchor="start" textLength="8.07" lengthAdjust="spacingAndGlyphs">CFG</text>
<rect x="256.10" y="112.70" width="3.1" height="3.0" fill="#4fe08e"/>
<text x="260.80" y="115.70" font-size="4.90" fill="#6e6e6e" text-anchor="start" textLength="10.14" lengthAdjust="spacingAndGlyphs">MGR</text>
<rect x="284.70" y="112.70" width="3.1" height="3.0" fill="#127a1c"/>
<text x="289.40" y="115.70" font-size="4.90" fill="#6e6e6e" text-anchor="start" textLength="9.93" lengthAdjust="spacingAndGlyphs">RVW</text>
<rect x="313.30" y="112.70" width="3.1" height="3.0" fill="#a8e29c"/>
<text x="318.00" y="115.70" font-size="4.90" fill="#6e6e6e" text-anchor="start" textLength="7.90" lengthAdjust="spacingAndGlyphs">BLD</text>
<rect x="341.90" y="112.70" width="3.1" height="3.0" fill="#7e401e"/>
<text x="346.60" y="115.70" font-size="4.90" fill="#6e6e6e" text-anchor="start" textLength="7.11" lengthAdjust="spacingAndGlyphs">TST</text>
<rect x="198.90" y="118.65" width="3.1" height="3.0" fill="#f06aa2"/>
<text x="203.60" y="121.65" font-size="4.90" fill="#6e6e6e" text-anchor="start" textLength="10.31" lengthAdjust="spacingAndGlyphs">RQM</text>
<rect x="227.50" y="118.65" width="3.1" height="3.0" fill="#bb1746"/>
<text x="232.20" y="121.65" font-size="4.90" fill="#6e6e6e" text-anchor="start" textLength="10.57" lengthAdjust="spacingAndGlyphs">CUST</text>
<rect x="256.10" y="118.65" width="3.1" height="3.0" fill="#df9f92"/>
<text x="260.80" y="121.65" font-size="4.90" fill="#6e6e6e" text-anchor="start" textLength="15.84" lengthAdjust="spacingAndGlyphs">R-MEET</text>
<rect x="284.70" y="118.65" width="3.1" height="3.0" fill="#f2621a"/>
<text x="289.40" y="121.65" font-size="4.90" fill="#6e6e6e" text-anchor="start" textLength="10.24" lengthAdjust="spacingAndGlyphs">ADM</text>
<rect x="313.30" y="118.65" width="3.1" height="3.0" fill="#efd31a"/>
<text x="318.00" y="121.65" font-size="4.90" fill="#6e6e6e" text-anchor="start" textLength="6.86" lengthAdjust="spacingAndGlyphs">PM</text>
<line x1="391.10" x2="545.50" y1="74.44" y2="74.44" stroke="#d9d9d9" stroke-width="0.7"/>
<line x1="391.10" x2="545.50" y1="58.48" y2="58.48" stroke="#d9d9d9" stroke-width="0.7"/>
<line x1="391.10" x2="545.50" y1="42.52" y2="42.52" stroke="#d9d9d9" stroke-width="0.7"/>
<line x1="391.10" x2="545.50" y1="26.56" y2="26.56" stroke="#d9d9d9" stroke-width="0.7"/>
<line x1="391.10" x2="545.50" y1="10.60" y2="10.60" stroke="#d9d9d9" stroke-width="0.7"/>
<path d="M391.10,90.40 L391.10,88.01 L395.27,90.00 L399.45,89.60 L403.62,90.40 L407.79,90.40 L411.96,76.83 L416.14,56.88 L420.31,42.52 L424.48,31.75 L428.66,44.91 L432.83,19.78 L437.00,38.77 L441.18,38.13 L445.35,43.56 L449.52,29.83 L453.69,31.03 L457.87,21.69 L462.04,22.89 L466.21,27.52 L470.39,24.49 L474.56,35.58 L478.73,49.06 L482.91,50.74 L487.08,51.78 L491.25,56.01 L495.42,37.97 L499.60,50.74 L503.77,56.64 L507.94,61.43 L512.12,54.33 L516.29,56.09 L520.46,57.28 L524.64,46.51 L528.81,90.40 L532.98,90.40 L537.15,90.40 L541.33,90.40 L545.50,90.40 L545.50,90.40 Z" fill="#efd31a"/>
<path d="M391.10,90.40 L391.10,88.33 L395.27,90.08 L399.45,89.76 L403.62,90.40 L407.79,90.40 L411.96,77.23 L416.14,57.68 L420.31,44.12 L424.48,39.33 L428.66,46.91 L432.83,22.97 L437.00,48.66 L441.18,50.42 L445.35,53.93 L449.52,38.77 L453.69,38.13 L457.87,29.83 L462.04,30.47 L466.21,37.01 L470.39,33.98 L474.56,42.52 L478.73,52.89 L482.91,54.49 L487.08,56.09 L491.25,59.28 L495.42,41.72 L499.60,57.92 L503.77,63.19 L507.94,69.17 L512.12,60.79 L516.29,64.39 L520.46,65.02 L524.64,47.31 L528.81,90.40 L532.98,90.40 L537.15,90.40 L541.33,90.40 L545.50,90.40 L545.50,90.40 Z" fill="#f2621a"/>
<path d="M391.10,90.40 L391.10,88.80 L395.27,90.16 L399.45,90.00 L403.62,90.40 L407.79,90.40 L411.96,77.63 L416.14,58.48 L420.31,45.71 L424.48,41.72 L428.66,48.03 L432.83,24.01 L437.00,49.78 L441.18,51.46 L445.35,54.49 L449.52,47.31 L453.69,45.79 L457.87,36.53 L462.04,37.57 L466.21,44.20 L470.39,39.33 L474.56,45.71 L478.73,56.09 L482.91,56.64 L487.08,59.20 L491.25,61.99 L495.42,43.56 L499.60,60.24 L503.77,65.58 L507.94,69.97 L512.12,63.19 L516.29,65.58 L520.46,66.78 L524.64,48.35 L528.81,90.40 L532.98,90.40 L537.15,90.40 L541.33,90.40 L545.50,90.40 L545.50,90.40 Z" fill="#df9f92"/>
<path d="M391.10,90.40 L391.10,90.40 L395.27,90.40 L399.45,90.40 L403.62,90.40 L407.79,90.40 L411.96,86.41 L416.14,67.26 L420.31,64.86 L424.48,62.87 L428.66,64.07 L432.83,34.54 L437.00,54.49 L441.18,64.07 L445.35,60.08 L449.52,60.08 L453.69,56.88 L457.87,51.30 L462.04,52.89 L466.21,56.88 L470.39,52.89 L474.56,60.08 L478.73,61.67 L482.91,68.30 L487.08,70.05 L491.25,75.24 L495.42,56.48 L499.60,74.04 L503.77,78.83 L507.94,75.00 L512.12,74.44 L516.29,74.44 L520.46,76.04 L524.64,78.43 L528.81,90.40 L532.98,90.40 L537.15,90.40 L541.33,90.40 L545.50,90.40 L545.50,90.40 Z" fill="#bb1746"/>
<path d="M391.10,90.40 L391.10,90.40 L395.27,90.40 L399.45,90.40 L403.62,90.40 L407.79,90.40 L411.96,86.81 L416.14,68.85 L420.31,66.46 L424.48,64.86 L428.66,64.86 L432.83,35.34 L437.00,54.89 L441.18,64.86 L445.35,60.87 L449.52,60.87 L453.69,57.68 L457.87,52.49 L462.04,53.69 L466.21,57.68 L470.39,53.29 L474.56,60.87 L478.73,64.07 L482.91,69.97 L487.08,70.85 L491.25,76.04 L495.42,56.88 L499.60,74.44 L503.77,79.23 L507.94,81.62 L512.12,78.43 L516.29,77.63 L520.46,80.03 L524.64,82.42 L528.81,90.40 L532.98,90.40 L537.15,90.40 L541.33,90.40 L545.50,90.40 L545.50,90.40 Z" fill="#f06aa2"/>
<path d="M391.10,90.40 L391.10,90.40 L395.27,90.40 L399.45,90.40 L403.62,90.40 L407.79,90.40 L411.96,87.21 L416.14,71.01 L420.31,68.85 L424.48,68.06 L428.66,66.30 L432.83,36.14 L437.00,55.77 L441.18,67.10 L445.35,62.95 L449.52,61.67 L453.69,58.88 L457.87,53.85 L462.04,55.05 L466.21,59.84 L470.39,54.17 L474.56,61.67 L478.73,69.97 L482.91,73.32 L487.08,77.47 L491.25,76.67 L495.42,57.28 L499.60,75.00 L503.77,79.63 L507.94,82.50 L512.12,80.43 L516.29,79.63 L520.46,82.42 L524.64,84.81 L528.81,90.40 L532.98,90.40 L537.15,90.40 L541.33,90.40 L545.50,90.40 L545.50,90.40 Z" fill="#7e401e"/>
<path d="M391.10,90.40 L391.10,90.40 L395.27,90.40 L399.45,90.40 L403.62,90.40 L407.79,90.40 L411.96,88.41 L416.14,81.46 L420.31,78.19 L424.48,77.63 L428.66,73.72 L432.83,44.52 L437.00,64.86 L441.18,75.24 L445.35,69.49 L449.52,69.49 L453.69,68.85 L457.87,62.47 L462.04,64.47 L466.21,68.22 L470.39,66.46 L474.56,69.25 L478.73,74.84 L482.91,78.03 L487.08,80.43 L491.25,80.03 L495.42,70.05 L499.60,78.43 L503.77,79.87 L507.94,83.06 L512.12,80.98 L516.29,80.19 L520.46,83.06 L524.64,85.61 L528.81,90.40 L532.98,90.40 L537.15,90.40 L541.33,90.40 L545.50,90.40 L545.50,90.40 Z" fill="#127a1c"/>
<path d="M391.10,90.40 L391.10,90.40 L395.27,90.40 L399.45,90.40 L403.62,90.40 L407.79,90.40 L411.96,89.20 L416.14,87.05 L420.31,84.81 L424.48,82.42 L428.66,77.39 L432.83,44.52 L437.00,65.18 L441.18,75.88 L445.35,71.25 L449.52,73.72 L453.69,69.81 L457.87,62.95 L462.04,65.18 L466.21,68.85 L470.39,66.94 L474.56,69.65 L478.73,75.00 L482.91,78.27 L487.08,80.82 L491.25,80.82 L495.42,70.85 L499.60,78.67 L503.77,80.03 L507.94,83.30 L512.12,81.70 L516.29,80.82 L520.46,83.30 L524.64,85.85 L528.81,90.40 L532.98,90.40 L537.15,90.40 L541.33,90.40 L545.50,90.40 L545.50,90.40 Z" fill="#3cb9c6"/>
<line x1="391.10" x2="545.50" y1="90.40" y2="90.40" stroke="#d9d9d9" stroke-width="0.7"/>
<text x="386.50" y="91.70" font-size="5.40" fill="#5a5a5a" text-anchor="end" textLength="2.53" lengthAdjust="spacingAndGlyphs">0</text>
<text x="386.50" y="75.74" font-size="5.40" fill="#5a5a5a" text-anchor="end" textLength="7.60" lengthAdjust="spacingAndGlyphs">200</text>
<text x="386.50" y="59.78" font-size="5.40" fill="#5a5a5a" text-anchor="end" textLength="7.60" lengthAdjust="spacingAndGlyphs">400</text>
<text x="386.50" y="43.82" font-size="5.40" fill="#5a5a5a" text-anchor="end" textLength="7.60" lengthAdjust="spacingAndGlyphs">600</text>
<text x="386.50" y="27.86" font-size="5.40" fill="#5a5a5a" text-anchor="end" textLength="7.60" lengthAdjust="spacingAndGlyphs">800</text>
<text x="386.50" y="11.90" font-size="5.40" fill="#5a5a5a" text-anchor="end" textLength="10.14" lengthAdjust="spacingAndGlyphs">1000</text>
<text x="376.10" y="51.00" font-size="5.60" fill="#555555" text-anchor="middle" textLength="49.38" lengthAdjust="spacingAndGlyphs" transform="rotate(-90 376.10 51.00)" stroke="#555555" stroke-width="0.1">Effort (person-hour)</text>
<text x="461.75" y="7.60" font-size="8.50" font-weight="bold" fill="#505050" text-anchor="middle" textLength="35.30" lengthAdjust="spacingAndGlyphs">Project P3</text>
<text x="392.70" y="99.00" font-size="5.50" fill="#424242" text-anchor="end" textLength="16.96" lengthAdjust="spacingAndGlyphs" transform="rotate(-45 392.70 99.00)" stroke="#424242" stroke-width="0.2">2016.01</text>
<text x="405.22" y="99.00" font-size="5.50" fill="#424242" text-anchor="end" textLength="16.96" lengthAdjust="spacingAndGlyphs" transform="rotate(-45 405.22 99.00)" stroke="#424242" stroke-width="0.2">2016.04</text>
<text x="417.74" y="99.00" font-size="5.50" fill="#424242" text-anchor="end" textLength="16.96" lengthAdjust="spacingAndGlyphs" transform="rotate(-45 417.74 99.00)" stroke="#424242" stroke-width="0.2">2016.07</text>
<text x="430.26" y="99.00" font-size="5.50" fill="#424242" text-anchor="end" textLength="16.96" lengthAdjust="spacingAndGlyphs" transform="rotate(-45 430.26 99.00)" stroke="#424242" stroke-width="0.2">2016.10</text>
<text x="442.78" y="99.00" font-size="5.50" fill="#424242" text-anchor="end" textLength="16.96" lengthAdjust="spacingAndGlyphs" transform="rotate(-45 442.78 99.00)" stroke="#424242" stroke-width="0.2">2017.01</text>
<text x="455.29" y="99.00" font-size="5.50" fill="#424242" text-anchor="end" textLength="16.96" lengthAdjust="spacingAndGlyphs" transform="rotate(-45 455.29 99.00)" stroke="#424242" stroke-width="0.2">2017.04</text>
<text x="467.81" y="99.00" font-size="5.50" fill="#424242" text-anchor="end" textLength="16.96" lengthAdjust="spacingAndGlyphs" transform="rotate(-45 467.81 99.00)" stroke="#424242" stroke-width="0.2">2017.07</text>
<text x="480.33" y="99.00" font-size="5.50" fill="#424242" text-anchor="end" textLength="16.96" lengthAdjust="spacingAndGlyphs" transform="rotate(-45 480.33 99.00)" stroke="#424242" stroke-width="0.2">2017.10</text>
<text x="492.85" y="99.00" font-size="5.50" fill="#424242" text-anchor="end" textLength="16.96" lengthAdjust="spacingAndGlyphs" transform="rotate(-45 492.85 99.00)" stroke="#424242" stroke-width="0.2">2018.01</text>
<text x="505.37" y="99.00" font-size="5.50" fill="#424242" text-anchor="end" textLength="16.96" lengthAdjust="spacingAndGlyphs" transform="rotate(-45 505.37 99.00)" stroke="#424242" stroke-width="0.2">2018.04</text>
<text x="517.89" y="99.00" font-size="5.50" fill="#424242" text-anchor="end" textLength="16.96" lengthAdjust="spacingAndGlyphs" transform="rotate(-45 517.89 99.00)" stroke="#424242" stroke-width="0.2">2018.07</text>
<text x="530.41" y="99.00" font-size="5.50" fill="#424242" text-anchor="end" textLength="16.96" lengthAdjust="spacingAndGlyphs" transform="rotate(-45 530.41 99.00)" stroke="#424242" stroke-width="0.2">2018.10</text>
<text x="542.93" y="99.00" font-size="5.50" fill="#424242" text-anchor="end" textLength="16.96" lengthAdjust="spacingAndGlyphs" transform="rotate(-45 542.93 99.00)" stroke="#424242" stroke-width="0.2">2019.01</text>
<rect x="383.40" y="112.70" width="3.1" height="3.0" fill="#3cb9c6"/>
<text x="388.10" y="115.70" font-size="4.90" fill="#6e6e6e" text-anchor="start" textLength="9.38" lengthAdjust="spacingAndGlyphs">A&amp;D</text>
<rect x="412.00" y="112.70" width="3.1" height="3.0" fill="#1d6b74"/>
<text x="416.70" y="115.70" font-size="4.90" fill="#6e6e6e" text-anchor="start" textLength="8.07" lengthAdjust="spacingAndGlyphs">CFG</text>
<rect x="440.60" y="112.70" width="3.1" height="3.0" fill="#4fe08e"/>
<text x="445.30" y="115.70" font-size="4.90" fill="#6e6e6e" text-anchor="start" textLength="10.14" lengthAdjust="spacingAndGlyphs">MGR</text>
<rect x="469.20" y="112.70" width="3.1" height="3.0" fill="#127a1c"/>
<text x="473.90" y="115.70" font-size="4.90" fill="#6e6e6e" text-anchor="start" textLength="9.93" lengthAdjust="spacingAndGlyphs">RVW</text>
<rect x="497.80" y="112.70" width="3.1" height="3.0" fill="#a8e29c"/>
<text x="502.50" y="115.70" font-size="4.90" fill="#6e6e6e" text-anchor="start" textLength="7.90" lengthAdjust="spacingAndGlyphs">BLD</text>
<rect x="526.40" y="112.70" width="3.1" height="3.0" fill="#7e401e"/>
<text x="531.10" y="115.70" font-size="4.90" fill="#6e6e6e" text-anchor="start" textLength="7.11" lengthAdjust="spacingAndGlyphs">TST</text>
<rect x="383.40" y="118.65" width="3.1" height="3.0" fill="#f06aa2"/>
<text x="388.10" y="121.65" font-size="4.90" fill="#6e6e6e" text-anchor="start" textLength="10.31" lengthAdjust="spacingAndGlyphs">RQM</text>
<rect x="412.00" y="118.65" width="3.1" height="3.0" fill="#bb1746"/>
<text x="416.70" y="121.65" font-size="4.90" fill="#6e6e6e" text-anchor="start" textLength="10.57" lengthAdjust="spacingAndGlyphs">CUST</text>
<rect x="440.60" y="118.65" width="3.1" height="3.0" fill="#df9f92"/>
<text x="445.30" y="121.65" font-size="4.90" fill="#6e6e6e" text-anchor="start" textLength="15.84" lengthAdjust="spacingAndGlyphs">R-MEET</text>
<rect x="469.20" y="118.65" width="3.1" height="3.0" fill="#f2621a"/>
<text x="473.90" y="121.65" font-size="4.90" fill="#6e6e6e" text-anchor="start" textLength="10.24" lengthAdjust="spacingAndGlyphs">ADM</text>
<rect x="497.80" y="118.65" width="3.1" height="3.0" fill="#efd31a"/>
<text x="502.50" y="121.65" font-size="4.90" fill="#6e6e6e" text-anchor="start" textLength="6.86" lengthAdjust="spacingAndGlyphs">PM</text>
<line x1="23.30" x2="176.70" y1="200.92" y2="200.92" stroke="#d9d9d9" stroke-width="0.7"/>
<line x1="23.30" x2="176.70" y1="185.04" y2="185.04" stroke="#d9d9d9" stroke-width="0.7"/>
<line x1="23.30" x2="176.70" y1="169.16" y2="169.16" stroke="#d9d9d9" stroke-width="0.7"/>
<line x1="23.30" x2="176.70" y1="153.28" y2="153.28" stroke="#d9d9d9" stroke-width="0.7"/>
<line x1="23.30" x2="176.70" y1="137.40" y2="137.40" stroke="#d9d9d9" stroke-width="0.7"/>
<path d="M23.30,216.80 L23.30,216.80 L34.26,147.88 L45.21,161.54 L56.17,185.99 L67.13,155.82 L78.09,155.19 L89.04,185.04 L100.00,192.98 L110.96,199.97 L121.91,200.60 L132.87,203.46 L143.83,200.92 L154.79,201.24 L165.74,205.37 L176.70,206.00 L176.70,216.80 Z" fill="#efd31a"/>
<path d="M23.30,216.80 L23.30,216.80 L34.26,157.09 L45.21,163.13 L56.17,186.95 L67.13,159.63 L78.09,165.67 L89.04,195.20 L100.00,199.01 L110.96,206.64 L121.91,207.59 L132.87,207.91 L143.83,208.07 L154.79,208.54 L165.74,212.04 L176.70,211.72 L176.70,216.80 Z" fill="#f2621a"/>
<path d="M23.30,216.80 L23.30,216.80 L34.26,157.41 L45.21,163.44 L56.17,187.26 L67.13,160.58 L78.09,166.30 L89.04,195.20 L100.00,199.01 L110.96,206.64 L121.91,207.59 L132.87,207.91 L143.83,208.07 L154.79,208.54 L165.74,212.04 L176.70,211.72 L176.70,216.80 Z" fill="#df9f92"/>
<path d="M23.30,216.80 L23.30,216.80 L34.26,192.98 L45.21,176.46 L56.17,202.83 L67.13,187.90 L78.09,196.47 L89.04,206.64 L100.00,207.91 L110.96,213.31 L121.91,212.99 L132.87,212.67 L143.83,212.99 L154.79,212.67 L165.74,215.53 L176.70,213.31 L176.70,216.80 Z" fill="#bb1746"/>
<path d="M23.30,216.80 L23.30,216.80 L34.26,207.27 L45.21,203.14 L56.17,205.68 L67.13,194.89 L78.09,206.00 L89.04,209.18 L100.00,208.22 L110.96,213.62 L121.91,213.62 L132.87,215.21 L143.83,213.31 L154.79,212.67 L165.74,215.85 L176.70,213.62 L176.70,216.80 Z" fill="#f06aa2"/>
<path d="M23.30,216.80 L23.30,216.80 L34.26,207.91 L45.21,204.41 L56.17,206.32 L67.13,195.20 L78.09,206.95 L89.04,212.35 L100.00,214.58 L110.96,214.58 L121.91,213.62 L132.87,215.21 L143.83,213.31 L154.79,212.67 L165.74,215.85 L176.70,213.62 L176.70,216.80 Z" fill="#7e401e"/>
<path d="M23.30,216.80 L23.30,216.80 L34.26,207.91 L45.21,204.41 L56.17,206.32 L67.13,195.20 L78.09,206.95 L89.04,212.35 L100.00,214.58 L110.96,214.58 L121.91,213.62 L132.87,215.21 L143.83,213.94 L154.79,214.26 L165.74,216.16 L176.70,213.62 L176.70,216.80 Z" fill="#127a1c"/>
<path d="M23.30,216.80 L23.30,216.80 L34.26,207.91 L45.21,204.41 L56.17,208.54 L67.13,199.65 L78.09,207.91 L89.04,212.35 L100.00,214.58 L110.96,214.58 L121.91,213.62 L132.87,215.21 L143.83,213.94 L154.79,214.26 L165.74,216.16 L176.70,213.62 L176.70,216.80 Z" fill="#3cb9c6"/>
<line x1="23.30" x2="176.70" y1="216.80" y2="216.80" stroke="#d9d9d9" stroke-width="0.7"/>
<text x="14.40" y="218.10" font-size="5.40" fill="#5a5a5a" text-anchor="end" textLength="2.53" lengthAdjust="spacingAndGlyphs">0</text>
<text x="14.40" y="202.22" font-size="5.40" fill="#5a5a5a" text-anchor="end" textLength="5.07" lengthAdjust="spacingAndGlyphs">50</text>
<text x="14.40" y="186.34" font-size="5.40" fill="#5a5a5a" text-anchor="end" textLength="7.60" lengthAdjust="spacingAndGlyphs">100</text>
<text x="14.40" y="170.46" font-size="5.40" fill="#5a5a5a" text-anchor="end" textLength="7.60" lengthAdjust="spacingAndGlyphs">150</text>
<text x="14.40" y="154.58" font-size="5.40" fill="#5a5a5a" text-anchor="end" textLength="7.60" lengthAdjust="spacingAndGlyphs">200</text>
<text x="14.40" y="138.70" font-size="5.40" fill="#5a5a5a" text-anchor="end" textLength="7.60" lengthAdjust="spacingAndGlyphs">250</text>
<text x="6.80" y="176.60" font-size="5.60" fill="#555555" text-anchor="middle" textLength="48.57" lengthAdjust="spacingAndGlyphs" transform="rotate(-90 6.80 176.60)" stroke="#555555" stroke-width="0.1">Effort (person-hour)</text>
<text x="92.80" y="134.20" font-size="8.50" font-weight="bold" fill="#505050" text-anchor="middle" textLength="35.30" lengthAdjust="spacingAndGlyphs">Project P4</text>
<text x="24.90" y="224.20" font-size="5.50" fill="#424242" text-anchor="end" textLength="16.96" lengthAdjust="spacingAndGlyphs" transform="rotate(-45 24.90 224.20)" stroke="#424242" stroke-width="0.2">2019.12</text>
<text x="46.81" y="224.20" font-size="5.50" fill="#424242" text-anchor="end" textLength="16.96" lengthAdjust="spacingAndGlyphs" transform="rotate(-45 46.81 224.20)" stroke="#424242" stroke-width="0.2">2020.02</text>
<text x="68.73" y="224.20" font-size="5.50" fill="#424242" text-anchor="end" textLength="16.96" lengthAdjust="spacingAndGlyphs" transform="rotate(-45 68.73 224.20)" stroke="#424242" stroke-width="0.2">2020.04</text>
<text x="90.64" y="224.20" font-size="5.50" fill="#424242" text-anchor="end" textLength="16.96" lengthAdjust="spacingAndGlyphs" transform="rotate(-45 90.64 224.20)" stroke="#424242" stroke-width="0.2">2020.06</text>
<text x="112.56" y="224.20" font-size="5.50" fill="#424242" text-anchor="end" textLength="16.96" lengthAdjust="spacingAndGlyphs" transform="rotate(-45 112.56 224.20)" stroke="#424242" stroke-width="0.2">2020.08</text>
<text x="134.47" y="224.20" font-size="5.50" fill="#424242" text-anchor="end" textLength="16.96" lengthAdjust="spacingAndGlyphs" transform="rotate(-45 134.47 224.20)" stroke="#424242" stroke-width="0.2">2020.10</text>
<text x="156.39" y="224.20" font-size="5.50" fill="#424242" text-anchor="end" textLength="16.96" lengthAdjust="spacingAndGlyphs" transform="rotate(-45 156.39 224.20)" stroke="#424242" stroke-width="0.2">2020.12</text>
<text x="178.30" y="224.20" font-size="5.50" fill="#424242" text-anchor="end" textLength="16.96" lengthAdjust="spacingAndGlyphs" transform="rotate(-45 178.30 224.20)" stroke="#424242" stroke-width="0.2">2021.02</text>
<rect x="14.40" y="239.20" width="3.1" height="3.0" fill="#3cb9c6"/>
<text x="19.10" y="242.20" font-size="4.90" fill="#6e6e6e" text-anchor="start" textLength="9.38" lengthAdjust="spacingAndGlyphs">A&amp;D</text>
<rect x="43.00" y="239.20" width="3.1" height="3.0" fill="#1d6b74"/>
<text x="47.70" y="242.20" font-size="4.90" fill="#6e6e6e" text-anchor="start" textLength="8.07" lengthAdjust="spacingAndGlyphs">CFG</text>
<rect x="71.60" y="239.20" width="3.1" height="3.0" fill="#4fe08e"/>
<text x="76.30" y="242.20" font-size="4.90" fill="#6e6e6e" text-anchor="start" textLength="10.14" lengthAdjust="spacingAndGlyphs">MGR</text>
<rect x="100.20" y="239.20" width="3.1" height="3.0" fill="#127a1c"/>
<text x="104.90" y="242.20" font-size="4.90" fill="#6e6e6e" text-anchor="start" textLength="9.93" lengthAdjust="spacingAndGlyphs">RVW</text>
<rect x="128.80" y="239.20" width="3.1" height="3.0" fill="#a8e29c"/>
<text x="133.50" y="242.20" font-size="4.90" fill="#6e6e6e" text-anchor="start" textLength="7.90" lengthAdjust="spacingAndGlyphs">BLD</text>
<rect x="157.40" y="239.20" width="3.1" height="3.0" fill="#7e401e"/>
<text x="162.10" y="242.20" font-size="4.90" fill="#6e6e6e" text-anchor="start" textLength="7.11" lengthAdjust="spacingAndGlyphs">TST</text>
<rect x="14.40" y="245.15" width="3.1" height="3.0" fill="#f06aa2"/>
<text x="19.10" y="248.15" font-size="4.90" fill="#6e6e6e" text-anchor="start" textLength="10.31" lengthAdjust="spacingAndGlyphs">RQM</text>
<rect x="43.00" y="245.15" width="3.1" height="3.0" fill="#bb1746"/>
<text x="47.70" y="248.15" font-size="4.90" fill="#6e6e6e" text-anchor="start" textLength="10.57" lengthAdjust="spacingAndGlyphs">CUST</text>
<rect x="71.60" y="245.15" width="3.1" height="3.0" fill="#df9f92"/>
<text x="76.30" y="248.15" font-size="4.90" fill="#6e6e6e" text-anchor="start" textLength="15.84" lengthAdjust="spacingAndGlyphs">R-MEET</text>
<rect x="100.20" y="245.15" width="3.1" height="3.0" fill="#f2621a"/>
<text x="104.90" y="248.15" font-size="4.90" fill="#6e6e6e" text-anchor="start" textLength="10.24" lengthAdjust="spacingAndGlyphs">ADM</text>
<rect x="128.80" y="245.15" width="3.1" height="3.0" fill="#efd31a"/>
<text x="133.50" y="248.15" font-size="4.90" fill="#6e6e6e" text-anchor="start" textLength="6.86" lengthAdjust="spacingAndGlyphs">PM</text>
<line x1="208.00" x2="361.00" y1="203.57" y2="203.57" stroke="#d9d9d9" stroke-width="0.7"/>
<line x1="208.00" x2="361.00" y1="190.33" y2="190.33" stroke="#d9d9d9" stroke-width="0.7"/>
<line x1="208.00" x2="361.00" y1="177.10" y2="177.10" stroke="#d9d9d9" stroke-width="0.7"/>
<line x1="208.00" x2="361.00" y1="163.87" y2="163.87" stroke="#d9d9d9" stroke-width="0.7"/>
<line x1="208.00" x2="361.00" y1="150.63" y2="150.63" stroke="#d9d9d9" stroke-width="0.7"/>
<line x1="208.00" x2="361.00" y1="137.40" y2="137.40" stroke="#d9d9d9" stroke-width="0.7"/>
<path d="M208.00,216.80 L208.00,216.80 L211.73,189.41 L215.46,190.00 L219.20,190.53 L222.93,189.21 L226.66,200.99 L230.39,193.18 L234.12,196.29 L237.85,193.97 L241.59,192.98 L245.32,190.86 L249.05,185.37 L252.78,181.33 L256.51,187.29 L260.24,178.89 L263.98,178.89 L267.71,187.03 L271.44,193.31 L275.17,180.08 L278.90,179.42 L282.63,186.50 L286.37,183.32 L290.10,187.29 L293.83,185.70 L297.56,174.59 L301.29,181.00 L305.02,170.62 L308.76,161.09 L312.49,177.83 L316.22,177.03 L319.95,178.62 L323.68,177.83 L327.41,188.08 L331.15,182.53 L334.88,177.83 L338.61,173.79 L342.34,166.71 L346.07,175.38 L349.80,169.03 L353.54,150.83 L357.27,161.09 L361.00,215.48 L361.00,216.80 Z" fill="#efd31a"/>
<path d="M208.00,216.80 L208.00,216.80 L211.73,189.67 L215.46,190.00 L219.20,191.00 L222.93,190.33 L226.66,201.91 L230.39,193.38 L234.12,196.88 L237.85,194.30 L241.59,193.38 L245.32,191.19 L249.05,186.03 L252.78,182.19 L256.51,189.01 L260.24,181.07 L263.98,180.74 L267.71,187.82 L271.44,194.10 L275.17,181.73 L278.90,180.74 L282.63,187.49 L286.37,186.83 L290.10,189.01 L293.83,188.35 L297.56,181.73 L301.29,181.53 L305.02,177.03 L308.76,167.51 L312.49,182.53 L316.22,181.00 L319.95,181.73 L323.68,181.00 L327.41,189.01 L331.15,183.72 L334.88,184.11 L338.61,181.73 L342.34,175.38 L346.07,181.73 L349.80,176.24 L353.54,165.92 L357.27,180.08 L361.00,215.48 L361.00,216.80 Z" fill="#f2621a"/>
<path d="M208.00,216.80 L208.00,216.80 L211.73,189.74 L215.46,190.00 L219.20,191.39 L222.93,193.64 L226.66,202.84 L230.39,193.91 L234.12,197.81 L237.85,196.49 L241.59,199.99 L245.32,202.57 L249.05,194.97 L252.78,186.36 L256.51,189.01 L260.24,188.55 L263.98,190.40 L267.71,192.98 L271.44,196.82 L275.17,193.58 L278.90,192.98 L282.63,193.58 L286.37,193.58 L290.10,198.94 L293.83,192.19 L297.56,195.23 L301.29,192.19 L305.02,188.35 L308.76,172.20 L312.49,186.83 L316.22,185.30 L319.95,183.06 L323.68,184.58 L327.41,192.85 L331.15,189.80 L334.88,186.03 L338.61,187.69 L342.34,189.01 L346.07,192.19 L349.80,189.01 L353.54,169.03 L357.27,180.08 L361.00,215.48 L361.00,216.80 Z" fill="#df9f92"/>
<path d="M208.00,216.80 L208.00,216.80 L211.73,197.61 L215.46,198.14 L219.20,199.07 L222.93,202.11 L226.66,204.89 L230.39,196.95 L234.12,199.60 L237.85,198.27 L241.59,200.92 L245.32,202.91 L249.05,195.63 L252.78,190.33 L256.51,192.65 L260.24,194.63 L263.98,196.95 L267.71,198.07 L271.44,199.99 L275.17,198.07 L278.90,197.41 L282.63,198.07 L286.37,200.92 L290.10,203.90 L293.83,198.80 L297.56,199.46 L301.29,196.62 L305.02,190.33 L308.76,179.75 L312.49,190.66 L316.22,190.33 L319.95,190.20 L323.68,191.79 L327.41,200.79 L331.15,199.33 L334.88,201.58 L338.61,205.75 L342.34,199.33 L346.07,193.11 L349.80,193.77 L353.54,182.33 L357.27,185.04 L361.00,215.48 L361.00,216.80 Z" fill="#bb1746"/>
<path d="M208.00,216.80 L208.00,216.80 L211.73,197.61 L215.46,198.14 L219.20,199.07 L222.93,202.11 L226.66,204.89 L230.39,196.95 L234.12,199.60 L237.85,198.27 L241.59,200.92 L245.32,202.91 L249.05,195.63 L252.78,190.33 L256.51,192.65 L260.24,194.63 L263.98,196.95 L267.71,198.07 L271.44,199.99 L275.17,198.07 L278.90,197.41 L282.63,198.07 L286.37,200.92 L290.10,203.90 L293.83,198.80 L297.56,199.46 L301.29,196.62 L305.02,190.33 L308.76,180.08 L312.49,191.66 L316.22,191.00 L319.95,190.33 L323.68,191.99 L327.41,200.92 L331.15,199.46 L334.88,201.71 L338.61,205.82 L342.34,199.46 L346.07,193.31 L349.80,193.97 L353.54,185.70 L357.27,185.70 L361.00,215.48 L361.00,216.80 Z" fill="#f06aa2"/>
<path d="M208.00,216.80 L208.00,216.80 L211.73,198.01 L215.46,198.41 L219.20,199.27 L222.93,202.31 L226.66,205.02 L230.39,197.61 L234.12,200.26 L237.85,198.94 L241.59,201.58 L245.32,203.24 L249.05,205.55 L252.78,194.97 L256.51,196.62 L260.24,198.41 L263.98,201.58 L267.71,200.92 L271.44,203.24 L275.17,202.51 L278.90,201.91 L282.63,200.39 L286.37,201.12 L290.10,204.10 L293.83,198.94 L297.56,199.60 L301.29,196.95 L305.02,190.60 L308.76,183.78 L312.49,191.99 L316.22,191.33 L319.95,190.60 L323.68,192.19 L327.41,201.12 L331.15,199.60 L334.88,201.91 L338.61,205.82 L342.34,199.60 L346.07,193.58 L349.80,194.30 L353.54,186.83 L357.27,186.03 L361.00,215.48 L361.00,216.80 Z" fill="#7e401e"/>
<path d="M208.00,216.80 L208.00,216.80 L211.73,203.57 L215.46,201.52 L219.20,199.73 L222.93,204.10 L226.66,206.08 L230.39,197.81 L234.12,200.39 L237.85,199.13 L241.59,201.71 L245.32,203.50 L249.05,205.68 L252.78,195.23 L256.51,196.88 L260.24,198.74 L263.98,201.91 L267.71,201.18 L271.44,203.83 L275.17,207.01 L278.90,208.20 L282.63,210.25 L286.37,207.07 L290.10,210.91 L293.83,205.62 L297.56,210.25 L301.29,205.49 L305.02,198.60 L308.76,189.01 L312.49,198.94 L316.22,197.28 L319.95,197.28 L323.68,198.94 L327.41,201.91 L331.15,202.57 L334.88,204.23 L338.61,205.82 L342.34,204.23 L346.07,195.96 L349.80,198.94 L353.54,195.23 L357.27,195.23 L361.00,215.48 L361.00,216.80 Z" fill="#4fe08e"/>
<path d="M208.00,216.80 L208.00,216.80 L211.73,203.57 L215.46,201.52 L219.20,199.73 L222.93,204.10 L226.66,206.08 L230.39,197.81 L234.12,200.39 L237.85,199.13 L241.59,201.71 L245.32,203.50 L249.05,205.68 L252.78,195.23 L256.51,196.88 L260.24,198.74 L263.98,201.91 L267.71,201.18 L271.44,203.83 L275.17,207.01 L278.90,208.20 L282.63,210.25 L286.37,207.07 L290.10,210.91 L293.83,205.62 L297.56,210.25 L301.29,206.48 L305.02,199.60 L308.76,189.01 L312.49,198.94 L316.22,197.28 L319.95,197.28 L323.68,198.94 L327.41,201.91 L331.15,202.57 L334.88,204.23 L338.61,206.48 L342.34,204.89 L346.07,196.62 L349.80,199.60 L353.54,195.23 L357.27,195.23 L361.00,215.48 L361.00,216.80 Z" fill="#3cb9c6"/>
<line x1="208.00" x2="361.00" y1="216.80" y2="216.80" stroke="#d9d9d9" stroke-width="0.7"/>
<text x="203.00" y="218.10" font-size="5.40" fill="#5a5a5a" text-anchor="end" textLength="2.53" lengthAdjust="spacingAndGlyphs">0</text>
<text x="203.00" y="204.87" font-size="5.40" fill="#5a5a5a" text-anchor="end" textLength="7.60" lengthAdjust="spacingAndGlyphs">200</text>
<text x="203.00" y="191.63" font-size="5.40" fill="#5a5a5a" text-anchor="end" textLength="7.60" lengthAdjust="spacingAndGlyphs">400</text>
<text x="203.00" y="178.40" font-size="5.40" fill="#5a5a5a" text-anchor="end" textLength="7.60" lengthAdjust="spacingAndGlyphs">600</text>
<text x="203.00" y="165.17" font-size="5.40" fill="#5a5a5a" text-anchor="end" textLength="7.60" lengthAdjust="spacingAndGlyphs">800</text>
<text x="203.00" y="151.93" font-size="5.40" fill="#5a5a5a" text-anchor="end" textLength="10.14" lengthAdjust="spacingAndGlyphs">1000</text>
<text x="203.00" y="138.70" font-size="5.40" fill="#5a5a5a" text-anchor="end" textLength="10.14" lengthAdjust="spacingAndGlyphs">1200</text>
<text x="191.70" y="177.20" font-size="5.60" fill="#555555" text-anchor="middle" textLength="48.57" lengthAdjust="spacingAndGlyphs" transform="rotate(-90 191.70 177.20)" stroke="#555555" stroke-width="0.1">Effort (person-hour)</text>
<text x="277.60" y="134.20" font-size="8.50" font-weight="bold" fill="#505050" text-anchor="middle" textLength="35.30" lengthAdjust="spacingAndGlyphs">Project P5</text>
<text x="209.60" y="224.20" font-size="5.50" fill="#424242" text-anchor="end" textLength="16.96" lengthAdjust="spacingAndGlyphs" transform="rotate(-45 209.60 224.20)" stroke="#424242" stroke-width="0.2">2016.12</text>
<text x="220.80" y="224.20" font-size="5.50" fill="#424242" text-anchor="end" textLength="16.96" lengthAdjust="spacingAndGlyphs" transform="rotate(-45 220.80 224.20)" stroke="#424242" stroke-width="0.2">2017.03</text>
<text x="231.99" y="224.20" font-size="5.50" fill="#424242" text-anchor="end" textLength="16.96" lengthAdjust="spacingAndGlyphs" transform="rotate(-45 231.99 224.20)" stroke="#424242" stroke-width="0.2">2017.06</text>
<text x="243.19" y="224.20" font-size="5.50" fill="#424242" text-anchor="end" textLength="16.96" lengthAdjust="spacingAndGlyphs" transform="rotate(-45 243.19 224.20)" stroke="#424242" stroke-width="0.2">2017.09</text>
<text x="254.38" y="224.20" font-size="5.50" fill="#424242" text-anchor="end" textLength="16.96" lengthAdjust="spacingAndGlyphs" transform="rotate(-45 254.38 224.20)" stroke="#424242" stroke-width="0.2">2017.12</text>
<text x="265.58" y="224.20" font-size="5.50" fill="#424242" text-anchor="end" textLength="16.96" lengthAdjust="spacingAndGlyphs" transform="rotate(-45 265.58 224.20)" stroke="#424242" stroke-width="0.2">2018.03</text>
<text x="276.77" y="224.20" font-size="5.50" fill="#424242" text-anchor="end" textLength="16.96" lengthAdjust="spacingAndGlyphs" transform="rotate(-45 276.77 224.20)" stroke="#424242" stroke-width="0.2">2018.06</text>
<text x="287.97" y="224.20" font-size="5.50" fill="#424242" text-anchor="end" textLength="16.96" lengthAdjust="spacingAndGlyphs" transform="rotate(-45 287.97 224.20)" stroke="#424242" stroke-width="0.2">2018.09</text>
<text x="299.16" y="224.20" font-size="5.50" fill="#424242" text-anchor="end" textLength="16.96" lengthAdjust="spacingAndGlyphs" transform="rotate(-45 299.16 224.20)" stroke="#424242" stroke-width="0.2">2018.12</text>
<text x="310.36" y="224.20" font-size="5.50" fill="#424242" text-anchor="end" textLength="16.96" lengthAdjust="spacingAndGlyphs" transform="rotate(-45 310.36 224.20)" stroke="#424242" stroke-width="0.2">2019.03</text>
<text x="321.55" y="224.20" font-size="5.50" fill="#424242" text-anchor="end" textLength="16.96" lengthAdjust="spacingAndGlyphs" transform="rotate(-45 321.55 224.20)" stroke="#424242" stroke-width="0.2">2019.06</text>
<text x="332.75" y="224.20" font-size="5.50" fill="#424242" text-anchor="end" textLength="16.96" lengthAdjust="spacingAndGlyphs" transform="rotate(-45 332.75 224.20)" stroke="#424242" stroke-width="0.2">2019.09</text>
<text x="343.94" y="224.20" font-size="5.50" fill="#424242" text-anchor="end" textLength="16.96" lengthAdjust="spacingAndGlyphs" transform="rotate(-45 343.94 224.20)" stroke="#424242" stroke-width="0.2">2019.12</text>
<text x="355.14" y="224.20" font-size="5.50" fill="#424242" text-anchor="end" textLength="16.96" lengthAdjust="spacingAndGlyphs" transform="rotate(-45 355.14 224.20)" stroke="#424242" stroke-width="0.2">2020.03</text>
<rect x="198.90" y="239.20" width="3.1" height="3.0" fill="#3cb9c6"/>
<text x="203.60" y="242.20" font-size="4.90" fill="#6e6e6e" text-anchor="start" textLength="9.38" lengthAdjust="spacingAndGlyphs">A&amp;D</text>
<rect x="227.50" y="239.20" width="3.1" height="3.0" fill="#1d6b74"/>
<text x="232.20" y="242.20" font-size="4.90" fill="#6e6e6e" text-anchor="start" textLength="8.07" lengthAdjust="spacingAndGlyphs">CFG</text>
<rect x="256.10" y="239.20" width="3.1" height="3.0" fill="#4fe08e"/>
<text x="260.80" y="242.20" font-size="4.90" fill="#6e6e6e" text-anchor="start" textLength="10.14" lengthAdjust="spacingAndGlyphs">MGR</text>
<rect x="284.70" y="239.20" width="3.1" height="3.0" fill="#127a1c"/>
<text x="289.40" y="242.20" font-size="4.90" fill="#6e6e6e" text-anchor="start" textLength="9.93" lengthAdjust="spacingAndGlyphs">RVW</text>
<rect x="313.30" y="239.20" width="3.1" height="3.0" fill="#a8e29c"/>
<text x="318.00" y="242.20" font-size="4.90" fill="#6e6e6e" text-anchor="start" textLength="7.90" lengthAdjust="spacingAndGlyphs">BLD</text>
<rect x="341.90" y="239.20" width="3.1" height="3.0" fill="#7e401e"/>
<text x="346.60" y="242.20" font-size="4.90" fill="#6e6e6e" text-anchor="start" textLength="7.11" lengthAdjust="spacingAndGlyphs">TST</text>
<rect x="198.90" y="245.15" width="3.1" height="3.0" fill="#f06aa2"/>
<text x="203.60" y="248.15" font-size="4.90" fill="#6e6e6e" text-anchor="start" textLength="10.31" lengthAdjust="spacingAndGlyphs">RQM</text>
<rect x="227.50" y="245.15" width="3.1" height="3.0" fill="#bb1746"/>
<text x="232.20" y="248.15" font-size="4.90" fill="#6e6e6e" text-anchor="start" textLength="10.57" lengthAdjust="spacingAndGlyphs">CUST</text>
<rect x="256.10" y="245.15" width="3.1" height="3.0" fill="#df9f92"/>
<text x="260.80" y="248.15" font-size="4.90" fill="#6e6e6e" text-anchor="start" textLength="15.84" lengthAdjust="spacingAndGlyphs">R-MEET</text>
<rect x="284.70" y="245.15" width="3.1" height="3.0" fill="#f2621a"/>
<text x="289.40" y="248.15" font-size="4.90" fill="#6e6e6e" text-anchor="start" textLength="10.24" lengthAdjust="spacingAndGlyphs">ADM</text>
<rect x="313.30" y="245.15" width="3.1" height="3.0" fill="#efd31a"/>
<text x="318.00" y="248.15" font-size="4.90" fill="#6e6e6e" text-anchor="start" textLength="6.86" lengthAdjust="spacingAndGlyphs">PM</text>
<line x1="391.50" x2="545.00" y1="203.57" y2="203.57" stroke="#d9d9d9" stroke-width="0.7"/>
<line x1="391.50" x2="545.00" y1="190.33" y2="190.33" stroke="#d9d9d9" stroke-width="0.7"/>
<line x1="391.50" x2="545.00" y1="177.10" y2="177.10" stroke="#d9d9d9" stroke-width="0.7"/>
<line x1="391.50" x2="545.00" y1="163.87" y2="163.87" stroke="#d9d9d9" stroke-width="0.7"/>
<line x1="391.50" x2="545.00" y1="150.63" y2="150.63" stroke="#d9d9d9" stroke-width="0.7"/>
<line x1="391.50" x2="545.00" y1="137.40" y2="137.40" stroke="#d9d9d9" stroke-width="0.7"/>
<path d="M391.50,216.80 L391.50,214.29 L403.31,209.12 L415.12,207.74 L426.92,199.93 L438.73,189.54 L450.54,185.24 L462.35,173.46 L474.15,177.83 L485.96,169.42 L497.77,159.43 L509.58,171.01 L521.38,163.80 L533.19,148.32 L545.00,155.93 L545.00,216.80 Z" fill="#efd31a"/>
<path d="M391.50,216.80 L391.50,214.48 L403.31,210.05 L415.12,207.93 L426.92,200.79 L438.73,192.65 L450.54,191.52 L462.35,188.48 L474.15,183.58 L485.96,178.03 L497.77,167.84 L509.58,182.79 L521.38,173.79 L533.19,163.01 L545.00,169.42 L545.00,216.80 Z" fill="#f2621a"/>
<path d="M391.50,216.80 L391.50,214.48 L403.31,210.12 L415.12,208.20 L426.92,208.33 L438.73,195.03 L450.54,193.51 L462.35,190.53 L474.15,187.49 L485.96,184.31 L497.77,177.30 L509.58,185.11 L521.38,178.03 L533.19,168.63 L545.00,179.02 L545.00,216.80 Z" fill="#df9f92"/>
<path d="M391.50,216.80 L391.50,214.48 L403.31,210.12 L415.12,208.20 L426.92,208.73 L438.73,200.52 L450.54,203.43 L462.35,199.20 L474.15,201.71 L485.96,195.49 L497.77,191.52 L509.58,195.49 L521.38,194.70 L533.19,189.08 L545.00,193.91 L545.00,216.80 Z" fill="#bb1746"/>
<path d="M391.50,216.80 L391.50,214.48 L403.31,210.12 L415.12,208.20 L426.92,208.73 L438.73,200.52 L450.54,203.43 L462.35,199.53 L474.15,204.29 L485.96,195.49 L497.77,191.52 L509.58,195.49 L521.38,194.70 L533.19,189.08 L545.00,193.91 L545.00,216.80 Z" fill="#f06aa2"/>
<path d="M391.50,216.80 L391.50,214.48 L403.31,210.12 L415.12,208.20 L426.92,208.73 L438.73,206.01 L450.54,209.12 L462.35,203.90 L474.15,207.21 L485.96,203.37 L497.77,196.69 L509.58,197.02 L521.38,197.81 L533.19,201.78 L545.00,198.60 L545.00,216.80 Z" fill="#7e401e"/>
<path d="M391.50,216.80 L391.50,214.48 L403.31,210.12 L415.12,208.20 L426.92,210.38 L438.73,207.54 L450.54,214.29 L462.35,211.31 L474.15,211.18 L485.96,211.31 L497.77,201.78 L509.58,204.23 L521.38,204.23 L533.19,205.02 L545.00,201.78 L545.00,216.80 Z" fill="#3cb9c6"/>
<line x1="391.50" x2="545.00" y1="216.80" y2="216.80" stroke="#d9d9d9" stroke-width="0.7"/>
<text x="386.50" y="218.10" font-size="5.40" fill="#5a5a5a" text-anchor="end" textLength="2.53" lengthAdjust="spacingAndGlyphs">0</text>
<text x="386.50" y="204.87" font-size="5.40" fill="#5a5a5a" text-anchor="end" textLength="7.60" lengthAdjust="spacingAndGlyphs">200</text>
<text x="386.50" y="191.63" font-size="5.40" fill="#5a5a5a" text-anchor="end" textLength="7.60" lengthAdjust="spacingAndGlyphs">400</text>
<text x="386.50" y="178.40" font-size="5.40" fill="#5a5a5a" text-anchor="end" textLength="7.60" lengthAdjust="spacingAndGlyphs">600</text>
<text x="386.50" y="165.17" font-size="5.40" fill="#5a5a5a" text-anchor="end" textLength="7.60" lengthAdjust="spacingAndGlyphs">800</text>
<text x="386.50" y="151.93" font-size="5.40" fill="#5a5a5a" text-anchor="end" textLength="10.14" lengthAdjust="spacingAndGlyphs">1000</text>
<text x="386.50" y="138.70" font-size="5.40" fill="#5a5a5a" text-anchor="end" textLength="10.14" lengthAdjust="spacingAndGlyphs">1200</text>
<text x="376.40" y="178.40" font-size="5.60" fill="#555555" text-anchor="middle" textLength="48.57" lengthAdjust="spacingAndGlyphs" transform="rotate(-90 376.40 178.40)" stroke="#555555" stroke-width="0.1">Effort (person-hour)</text>
<text x="461.75" y="134.20" font-size="8.50" font-weight="bold" fill="#505050" text-anchor="middle" textLength="35.30" lengthAdjust="spacingAndGlyphs">Project P6</text>
<text x="393.10" y="224.20" font-size="5.50" fill="#424242" text-anchor="end" textLength="16.96" lengthAdjust="spacingAndGlyphs" transform="rotate(-45 393.10 224.20)" stroke="#424242" stroke-width="0.2">2020.05</text>
<text x="404.91" y="224.20" font-size="5.50" fill="#424242" text-anchor="end" textLength="16.96" lengthAdjust="spacingAndGlyphs" transform="rotate(-45 404.91 224.20)" stroke="#424242" stroke-width="0.2">2020.06</text>
<text x="416.72" y="224.20" font-size="5.50" fill="#424242" text-anchor="end" textLength="16.96" lengthAdjust="spacingAndGlyphs" transform="rotate(-45 416.72 224.20)" stroke="#424242" stroke-width="0.2">2020.07</text>
<text x="428.52" y="224.20" font-size="5.50" fill="#424242" text-anchor="end" textLength="16.96" lengthAdjust="spacingAndGlyphs" transform="rotate(-45 428.52 224.20)" stroke="#424242" stroke-width="0.2">2020.08</text>
<text x="440.33" y="224.20" font-size="5.50" fill="#424242" text-anchor="end" textLength="16.96" lengthAdjust="spacingAndGlyphs" transform="rotate(-45 440.33 224.20)" stroke="#424242" stroke-width="0.2">2020.09</text>
<text x="452.14" y="224.20" font-size="5.50" fill="#424242" text-anchor="end" textLength="16.96" lengthAdjust="spacingAndGlyphs" transform="rotate(-45 452.14 224.20)" stroke="#424242" stroke-width="0.2">2020.10</text>
<text x="463.95" y="224.20" font-size="5.50" fill="#424242" text-anchor="end" textLength="16.96" lengthAdjust="spacingAndGlyphs" transform="rotate(-45 463.95 224.20)" stroke="#424242" stroke-width="0.2">2020.11</text>
<text x="475.75" y="224.20" font-size="5.50" fill="#424242" text-anchor="end" textLength="16.96" lengthAdjust="spacingAndGlyphs" transform="rotate(-45 475.75 224.20)" stroke="#424242" stroke-width="0.2">2020.12</text>
<text x="487.56" y="224.20" font-size="5.50" fill="#424242" text-anchor="end" textLength="16.96" lengthAdjust="spacingAndGlyphs" transform="rotate(-45 487.56 224.20)" stroke="#424242" stroke-width="0.2">2021.01</text>
<text x="499.37" y="224.20" font-size="5.50" fill="#424242" text-anchor="end" textLength="16.96" lengthAdjust="spacingAndGlyphs" transform="rotate(-45 499.37 224.20)" stroke="#424242" stroke-width="0.2">2021.02</text>
<text x="511.18" y="224.20" font-size="5.50" fill="#424242" text-anchor="end" textLength="16.96" lengthAdjust="spacingAndGlyphs" transform="rotate(-45 511.18 224.20)" stroke="#424242" stroke-width="0.2">2021.03</text>
<text x="522.98" y="224.20" font-size="5.50" fill="#424242" text-anchor="end" textLength="16.96" lengthAdjust="spacingAndGlyphs" transform="rotate(-45 522.98 224.20)" stroke="#424242" stroke-width="0.2">2021.04</text>
<text x="534.79" y="224.20" font-size="5.50" fill="#424242" text-anchor="end" textLength="16.96" lengthAdjust="spacingAndGlyphs" transform="rotate(-45 534.79 224.20)" stroke="#424242" stroke-width="0.2">2021.05</text>
<text x="546.60" y="224.20" font-size="5.50" fill="#424242" text-anchor="end" textLength="16.96" lengthAdjust="spacingAndGlyphs" transform="rotate(-45 546.60 224.20)" stroke="#424242" stroke-width="0.2">2021.06</text>
<rect x="383.40" y="239.20" width="3.1" height="3.0" fill="#3cb9c6"/>
<text x="388.10" y="242.20" font-size="4.90" fill="#6e6e6e" text-anchor="start" textLength="9.38" lengthAdjust="spacingAndGlyphs">A&amp;D</text>
<rect x="412.00" y="239.20" width="3.1" height="3.0" fill="#1d6b74"/>
<text x="416.70" y="242.20" font-size="4.90" fill="#6e6e6e" text-anchor="start" textLength="8.07" lengthAdjust="spacingAndGlyphs">CFG</text>
<rect x="440.60" y="239.20" width="3.1" height="3.0" fill="#4fe08e"/>
<text x="445.30" y="242.20" font-size="4.90" fill="#6e6e6e" text-anchor="start" textLength="10.14" lengthAdjust="spacingAndGlyphs">MGR</text>
<rect x="469.20" y="239.20" width="3.1" height="3.0" fill="#127a1c"/>
<text x="473.90" y="242.20" font-size="4.90" fill="#6e6e6e" text-anchor="start" textLength="9.93" lengthAdjust="spacingAndGlyphs">RVW</text>
<rect x="497.80" y="239.20" width="3.1" height="3.0" fill="#a8e29c"/>
<text x="502.50" y="242.20" font-size="4.90" fill="#6e6e6e" text-anchor="start" textLength="7.90" lengthAdjust="spacingAndGlyphs">BLD</text>
<rect x="526.40" y="239.20" width="3.1" height="3.0" fill="#7e401e"/>
<text x="531.10" y="242.20" font-size="4.90" fill="#6e6e6e" text-anchor="start" textLength="7.11" lengthAdjust="spacingAndGlyphs">TST</text>
<rect x="383.40" y="245.15" width="3.1" height="3.0" fill="#f06aa2"/>
<text x="388.10" y="248.15" font-size="4.90" fill="#6e6e6e" text-anchor="start" textLength="10.31" lengthAdjust="spacingAndGlyphs">RQM</text>
<rect x="412.00" y="245.15" width="3.1" height="3.0" fill="#bb1746"/>
<text x="416.70" y="248.15" font-size="4.90" fill="#6e6e6e" text-anchor="start" textLength="10.57" lengthAdjust="spacingAndGlyphs">CUST</text>
<rect x="440.60" y="245.15" width="3.1" height="3.0" fill="#df9f92"/>
<text x="445.30" y="248.15" font-size="4.90" fill="#6e6e6e" text-anchor="start" textLength="15.84" lengthAdjust="spacingAndGlyphs">R-MEET</text>
<rect x="469.20" y="245.15" width="3.1" height="3.0" fill="#f2621a"/>
<text x="473.90" y="248.15" font-size="4.90" fill="#6e6e6e" text-anchor="start" textLength="10.24" lengthAdjust="spacingAndGlyphs">ADM</text>
<rect x="497.80" y="245.15" width="3.1" height="3.0" fill="#efd31a"/>
<text x="502.50" y="248.15" font-size="4.90" fill="#6e6e6e" text-anchor="start" textLength="6.86" lengthAdjust="spacingAndGlyphs">PM</text>
</svg></body></html>
